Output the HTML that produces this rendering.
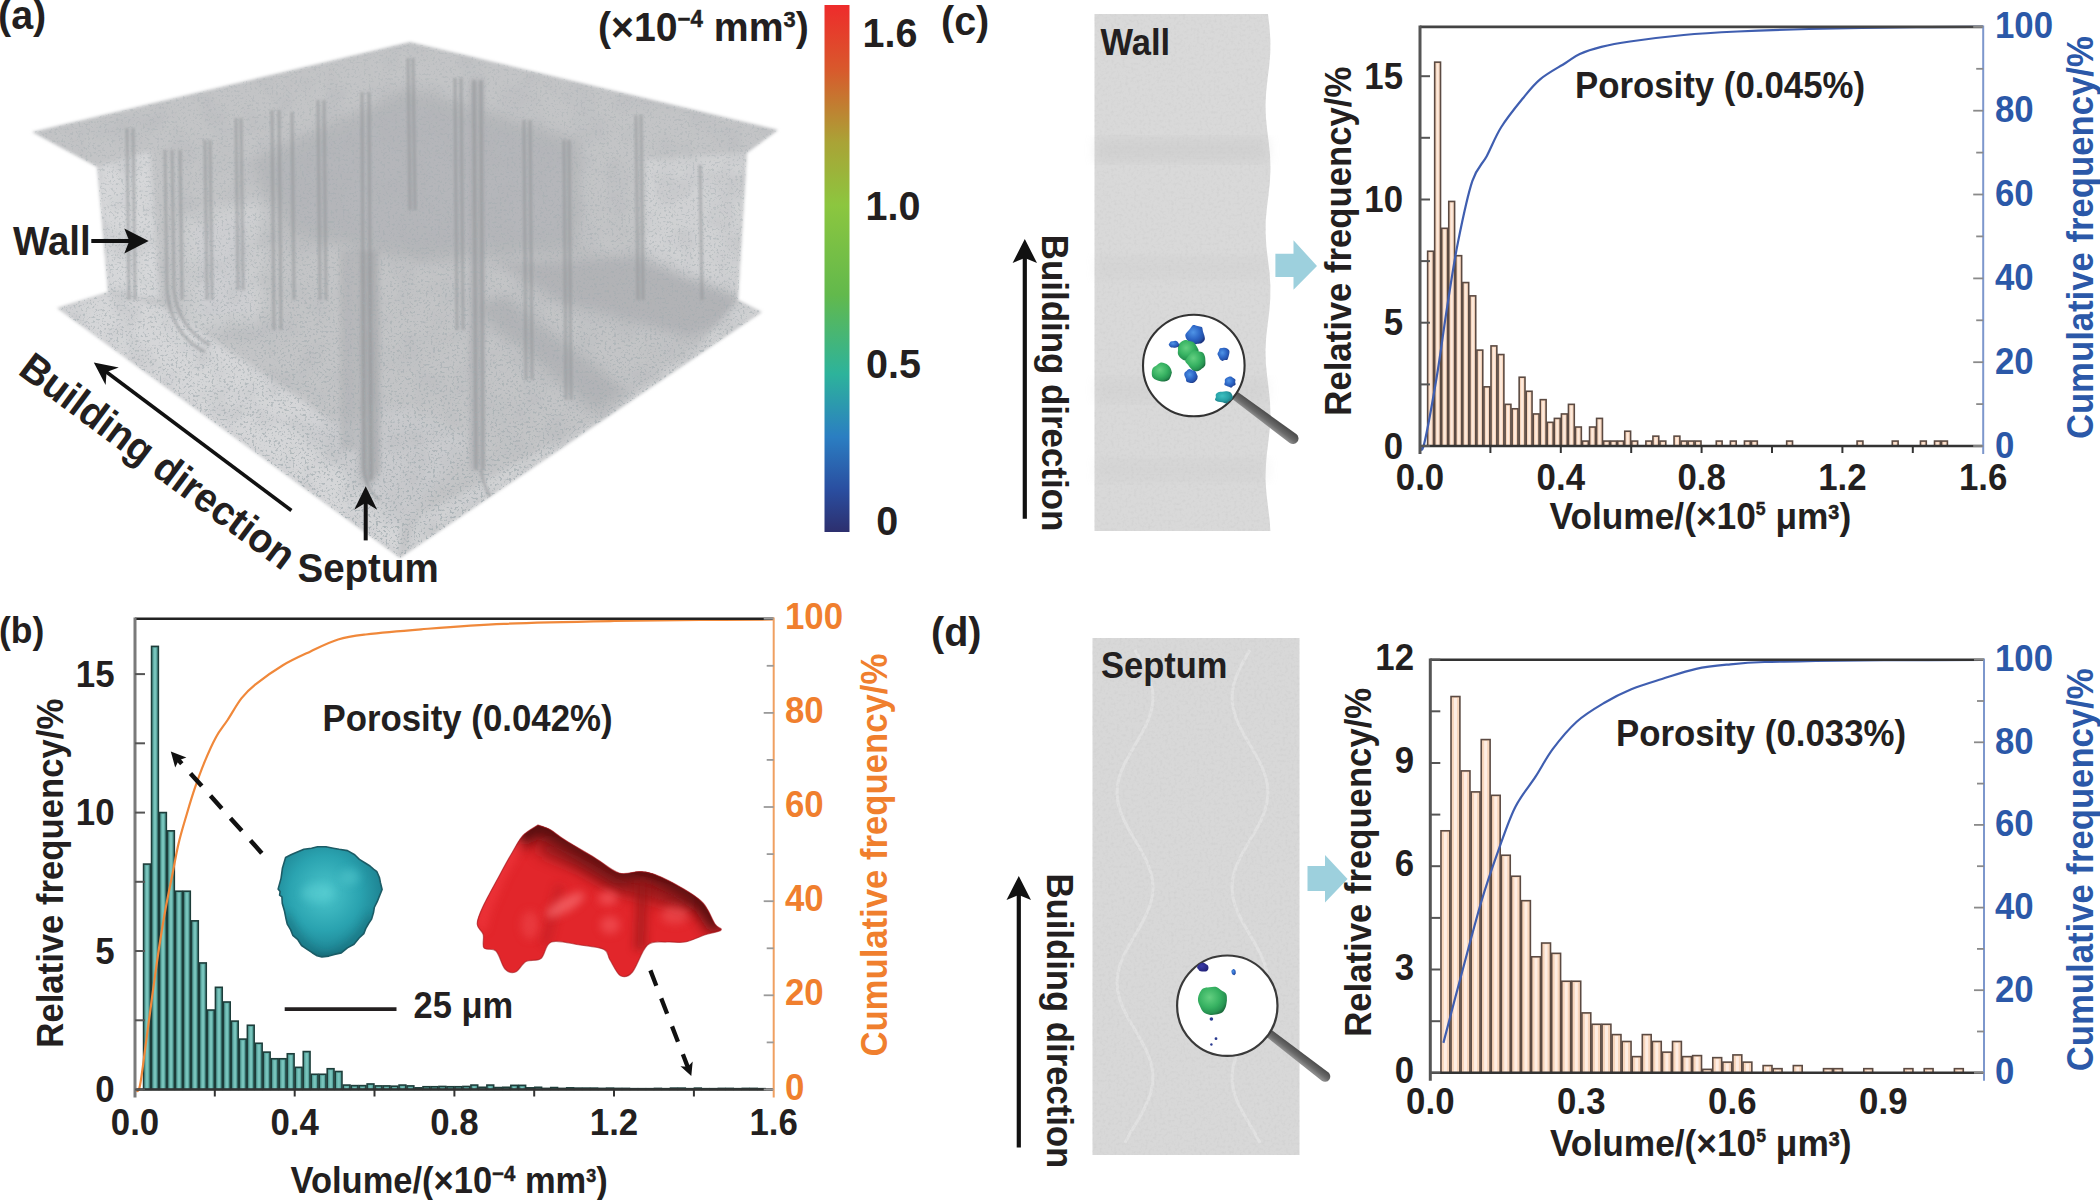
<!DOCTYPE html>
<html><head><meta charset="utf-8"><title>Porosity figure</title>
<style>html,body{margin:0;padding:0;background:#fff;} svg{display:block;}</style></head>
<body><svg width="2100" height="1200" viewBox="0 0 2100 1200" font-family="'Liberation Sans', Arial, sans-serif" font-weight="bold">
<rect width="2100" height="1200" fill="#fff"/>
<defs>
<linearGradient id="cbar" x1="0" y1="0" x2="0" y2="1">
 <stop offset="0" stop-color="#ee2b2b"/>
 <stop offset="0.12" stop-color="#d9582c"/>
 <stop offset="0.26" stop-color="#aaa336"/>
 <stop offset="0.38" stop-color="#8cc63f"/>
 <stop offset="0.55" stop-color="#62b94c"/>
 <stop offset="0.70" stop-color="#2db39b"/>
 <stop offset="0.82" stop-color="#2b7ec2"/>
 <stop offset="0.92" stop-color="#2a4ea0"/>
 <stop offset="1" stop-color="#2d2f6e"/>
</linearGradient>
<filter id="speck" x="0" y="0" width="100%" height="100%">
 <feTurbulence type="fractalNoise" baseFrequency="0.55" numOctaves="2" seed="3" result="n"/>
 <feColorMatrix in="n" type="matrix" values="0 0 0 0 0.35  0 0 0 0 0.40  0 0 0 0 0.42  0 0 0 -2.2 1.25" result="m"/>
 <feComposite in="m" in2="SourceGraphic" operator="in"/>
</filter>
<filter id="soft"><feGaussianBlur stdDeviation="2.5"/></filter>
<filter id="soft1" x="-150%" y="-5%" width="400%" height="110%"><feGaussianBlur stdDeviation="1.1"/></filter>
<filter id="soft6"><feGaussianBlur stdDeviation="6"/></filter>
</defs>
<defs><clipPath id="silclip"><polygon points="32,132 410,42 778,130 747,153 738,300 762,312 400,558 57,308 108,292 97,167"/></clipPath><filter id="edge" x="-5%" y="-5%" width="110%" height="110%"><feGaussianBlur stdDeviation="1.8"/></filter><filter id="dots" x="0" y="0" width="100%" height="100%"><feTurbulence type="fractalNoise" baseFrequency="0.42" numOctaves="2" seed="11" result="n"/><feColorMatrix in="n" type="matrix" values="0 0 0 0 0.36  0 0 0 0 0.41  0 0 0 0 0.43  7 0 0 0 -3.9" result="m"/><feComposite in="m" in2="SourceGraphic" operator="in"/></filter><filter id="blot" x="0" y="0" width="100%" height="100%"><feTurbulence type="fractalNoise" baseFrequency="0.035" numOctaves="3" seed="5" result="n"/><feColorMatrix in="n" type="matrix" values="0 0 0 0 0.45  0 0 0 0 0.46  0 0 0 0 0.48  2.2 0 0 0 -0.95" result="m"/><feComposite in="m" in2="SourceGraphic" operator="in"/></filter></defs>
<g filter="url(#edge)">
<polygon points="32,132 410,42 778,130 747,153 738,300 762,312 400,558 57,308 108,292 97,167" fill="#c3c4c6"/>
<g clip-path="url(#silclip)">
<polygon points="250,160 410,88 580,140 580,250 420,262 290,235" fill="#b4b5b8" opacity="0.9" filter="url(#soft6)"/>
<polygon points="97,167 150,152 160,300 108,292" fill="#d6d7d9" filter="url(#soft)"/>
<polygon points="182,215 262,200 262,325 188,330" fill="#cfd0d2" opacity="0.9" filter="url(#soft6)"/>
<polygon points="645,160 747,153 738,300 645,268" fill="#d0d1d3" filter="url(#soft)"/>
<polygon points="495,262 640,256 745,300 735,318 690,338 560,302" fill="#aeafb2" opacity="0.8" filter="url(#soft6)"/>
<polygon points="468,305 505,295 628,392 595,412" fill="#b1b2b5" opacity="0.9" filter="url(#soft6)"/>
<polygon points="57,308 108,292 160,305 280,385 400,470 400,558" fill="#d5d6d8" filter="url(#soft)"/>
<polygon points="400,558 420,515 600,420 700,345 738,300 762,312" fill="#d0d1d3" filter="url(#soft)"/>
<polygon points="300,430 400,405 470,440 400,530" fill="#c9cacd" filter="url(#soft6)"/>
<path d="M358,250 L360,470 Q366,500 380,470 L378,250 Z" fill="#a7a8ab" opacity="0.8" filter="url(#soft)"/>
<rect x="470" y="80" width="14" height="390" fill="#aeafb2" opacity="0.75" filter="url(#soft)"/>
<rect x="340" y="250" width="18" height="200" fill="#b0b1b4" opacity="0.6" filter="url(#soft)"/>
<polygon points="32,132 410,42 778,130 747,153 738,300 762,312 400,558 57,308 108,292 97,167" fill="#000" filter="url(#blot)" opacity="0.35"/>
</g></g>
<g clip-path="url(#silclip)">
<line x1="127" y1="128" x2="129" y2="300" stroke="#8a8d90" stroke-width="3.2" opacity="0.45" filter="url(#soft1)"/>
<line x1="133" y1="128" x2="135" y2="300" stroke="#8a8d90" stroke-width="3.2" opacity="0.45" filter="url(#soft1)"/>
<line x1="180" y1="150" x2="182" y2="300" stroke="#8a8d90" stroke-width="3.2" opacity="0.45" filter="url(#soft1)"/>
<line x1="205" y1="140" x2="207" y2="300" stroke="#8a8d90" stroke-width="3.2" opacity="0.45" filter="url(#soft1)"/>
<line x1="210" y1="140" x2="212" y2="300" stroke="#8a8d90" stroke-width="3.2" opacity="0.45" filter="url(#soft1)"/>
<line x1="236" y1="118" x2="238" y2="290" stroke="#8a8d90" stroke-width="3.2" opacity="0.45" filter="url(#soft1)"/>
<line x1="241" y1="118" x2="243" y2="290" stroke="#8a8d90" stroke-width="3.2" opacity="0.45" filter="url(#soft1)"/>
<line x1="272" y1="110" x2="274" y2="330" stroke="#8a8d90" stroke-width="3.2" opacity="0.45" filter="url(#soft1)"/>
<line x1="279" y1="110" x2="281" y2="330" stroke="#8a8d90" stroke-width="3.2" opacity="0.45" filter="url(#soft1)"/>
<line x1="292" y1="112" x2="294" y2="300" stroke="#8a8d90" stroke-width="3.2" opacity="0.45" filter="url(#soft1)"/>
<line x1="318" y1="100" x2="320" y2="300" stroke="#8a8d90" stroke-width="3.2" opacity="0.45" filter="url(#soft1)"/>
<line x1="324" y1="100" x2="326" y2="300" stroke="#8a8d90" stroke-width="3.2" opacity="0.45" filter="url(#soft1)"/>
<line x1="362" y1="92" x2="364" y2="470" stroke="#8a8d90" stroke-width="3.2" opacity="0.45" filter="url(#soft1)"/>
<line x1="369" y1="92" x2="371" y2="480" stroke="#8a8d90" stroke-width="3.2" opacity="0.45" filter="url(#soft1)"/>
<line x1="408" y1="58" x2="410" y2="210" stroke="#8a8d90" stroke-width="3.2" opacity="0.45" filter="url(#soft1)"/>
<line x1="413" y1="58" x2="415" y2="210" stroke="#8a8d90" stroke-width="3.2" opacity="0.45" filter="url(#soft1)"/>
<line x1="455" y1="78" x2="457" y2="330" stroke="#8a8d90" stroke-width="3.2" opacity="0.45" filter="url(#soft1)"/>
<line x1="461" y1="78" x2="463" y2="330" stroke="#8a8d90" stroke-width="3.2" opacity="0.45" filter="url(#soft1)"/>
<line x1="474" y1="80" x2="476" y2="470" stroke="#8a8d90" stroke-width="3.2" opacity="0.45" filter="url(#soft1)"/>
<line x1="481" y1="80" x2="483" y2="470" stroke="#8a8d90" stroke-width="3.2" opacity="0.45" filter="url(#soft1)"/>
<line x1="524" y1="120" x2="526" y2="380" stroke="#8a8d90" stroke-width="3.2" opacity="0.45" filter="url(#soft1)"/>
<line x1="530" y1="120" x2="532" y2="380" stroke="#8a8d90" stroke-width="3.2" opacity="0.45" filter="url(#soft1)"/>
<line x1="564" y1="140" x2="566" y2="400" stroke="#8a8d90" stroke-width="3.2" opacity="0.45" filter="url(#soft1)"/>
<line x1="569" y1="140" x2="571" y2="400" stroke="#8a8d90" stroke-width="3.2" opacity="0.45" filter="url(#soft1)"/>
<line x1="636" y1="115" x2="638" y2="300" stroke="#8a8d90" stroke-width="3.2" opacity="0.45" filter="url(#soft1)"/>
<line x1="641" y1="115" x2="643" y2="300" stroke="#8a8d90" stroke-width="3.2" opacity="0.45" filter="url(#soft1)"/>
<line x1="700" y1="165" x2="702" y2="300" stroke="#8a8d90" stroke-width="3.2" opacity="0.45" filter="url(#soft1)"/>
<path d="M165,150 L167,290 Q171,335 205,352" fill="none" stroke="#8a8d90" stroke-width="3" opacity="0.45" filter="url(#soft1)"/>
<path d="M172,150 L174,290 Q178,328 210,345" fill="none" stroke="#8a8d90" stroke-width="3" opacity="0.45" filter="url(#soft1)"/>
<path d="M364,470 Q367,492 380,500" fill="none" stroke="#8a8d90" stroke-width="3" opacity="0.45" filter="url(#soft1)"/>
<path d="M481,470 Q486,500 505,512" fill="none" stroke="#8a8d90" stroke-width="3" opacity="0.45" filter="url(#soft1)"/>
<defs><linearGradient id="dmg" x1="0" y1="0" x2="0" y2="1"><stop offset="0" stop-color="#fff" stop-opacity="0.35"/><stop offset="0.45" stop-color="#fff" stop-opacity="0.6"/><stop offset="1" stop-color="#fff" stop-opacity="1"/></linearGradient><mask id="dmask" maskUnits="userSpaceOnUse" x="0" y="0" width="800" height="600"><rect x="0" y="40" width="800" height="520" fill="url(#dmg)"/></mask></defs>
<g mask="url(#dmask)"><polygon points="32,132 410,42 778,130 747,153 738,300 762,312 400,558 57,308 108,292 97,167" fill="#000" filter="url(#dots)" opacity="0.8"/></g>
</g>
<rect x="824.5" y="5" width="25" height="527" fill="url(#cbar)"/>
<text transform="translate(0.0,28.5) scale(1,1.05)" font-size="39.5" text-anchor="start" fill="#231f20" dx="-2">(a)</text>
<text transform="translate(598.0,40.6) scale(1,1.05)" font-size="39.2" text-anchor="start" fill="#231f20">(×10<tspan font-size="22.3" dy="-12.9" stroke="#231f20" stroke-width="0.45">−4</tspan><tspan dy="12.9"> mm</tspan><tspan font-size="21.8" dy="-12.9" stroke="#231f20" stroke-width="0.45">3</tspan><tspan dy="12.9">)</tspan></text>
<text transform="translate(862.5,47.0) scale(1,1.04)" font-size="39.5" text-anchor="start" fill="#231f20" >1.6</text>
<text transform="translate(865.5,219.5) scale(1,1.04)" font-size="39.5" text-anchor="start" fill="#231f20" >1.0</text>
<text transform="translate(866.0,378.0) scale(1,1.04)" font-size="39.5" text-anchor="start" fill="#231f20" >0.5</text>
<text transform="translate(876.3,534.5) scale(1,1.04)" font-size="39.5" text-anchor="start" fill="#231f20" >0</text>
<text transform="translate(13.0,255.0) scale(1,1.05)" font-size="38.5" text-anchor="start" fill="#231f20" >Wall</text>
<line x1="91.3" y1="241.0" x2="130.3" y2="241.0" stroke="#111" stroke-width="4.0"/>
<polygon points="148.7,241.0 124.3,253.5 129.3,241.0 124.3,228.5" fill="#111"/>
<text transform="translate(16.7,373.3) rotate(36.7) scale(1,1.05)" font-size="39.0" text-anchor="start" fill="#231f20">Building direction</text>
<line x1="291.4" y1="510.5" x2="105.8" y2="371.5" stroke="#111" stroke-width="3.6"/>
<polygon points="93.8,362.5 118.8,367.5 106.6,372.1 105.6,385.1" fill="#111"/>
<text transform="translate(297.5,581.5) scale(1,1.05)" font-size="38.5" text-anchor="start" fill="#231f20" >Septum</text>
<line x1="365.7" y1="540.4" x2="365.7" y2="501.8" stroke="#111" stroke-width="4.0"/>
<polygon points="365.7,486.3 377.2,509.8 365.7,502.8 354.2,509.8" fill="#111"/>
<g>
<rect x="143.58" y="864.07" width="6.78" height="225.43" fill="#5aa59e" stroke="#1d3d3a" stroke-width="1.6"/>
<rect x="145.73" y="865.57" width="2.50" height="222.93" fill="#78c4bc"/>
<rect x="151.57" y="646.39" width="6.78" height="443.11" fill="#5aa59e" stroke="#1d3d3a" stroke-width="1.6"/>
<rect x="153.71" y="647.89" width="2.50" height="440.61" fill="#78c4bc"/>
<rect x="159.55" y="812.56" width="6.78" height="276.94" fill="#5aa59e" stroke="#1d3d3a" stroke-width="1.6"/>
<rect x="161.69" y="814.06" width="2.50" height="274.44" fill="#78c4bc"/>
<rect x="167.53" y="830.84" width="6.78" height="258.66" fill="#5aa59e" stroke="#1d3d3a" stroke-width="1.6"/>
<rect x="169.68" y="832.34" width="2.50" height="256.16" fill="#78c4bc"/>
<rect x="175.52" y="891.21" width="6.78" height="198.29" fill="#5aa59e" stroke="#1d3d3a" stroke-width="1.6"/>
<rect x="177.66" y="892.71" width="2.50" height="195.79" fill="#78c4bc"/>
<rect x="183.50" y="891.21" width="6.78" height="198.29" fill="#5aa59e" stroke="#1d3d3a" stroke-width="1.6"/>
<rect x="185.64" y="892.71" width="2.50" height="195.79" fill="#78c4bc"/>
<rect x="191.49" y="920.84" width="6.78" height="168.66" fill="#5aa59e" stroke="#1d3d3a" stroke-width="1.6"/>
<rect x="193.63" y="922.34" width="2.50" height="166.16" fill="#78c4bc"/>
<rect x="199.47" y="962.94" width="6.78" height="126.56" fill="#5aa59e" stroke="#1d3d3a" stroke-width="1.6"/>
<rect x="201.61" y="964.44" width="2.50" height="124.06" fill="#78c4bc"/>
<rect x="207.45" y="1010.02" width="6.78" height="79.48" fill="#5aa59e" stroke="#1d3d3a" stroke-width="1.6"/>
<rect x="209.60" y="1011.52" width="2.50" height="76.98" fill="#78c4bc"/>
<rect x="215.44" y="987.31" width="6.78" height="102.19" fill="#5aa59e" stroke="#1d3d3a" stroke-width="1.6"/>
<rect x="217.58" y="988.81" width="2.50" height="99.69" fill="#78c4bc"/>
<rect x="223.42" y="1001.99" width="6.78" height="87.51" fill="#5aa59e" stroke="#1d3d3a" stroke-width="1.6"/>
<rect x="225.56" y="1003.49" width="2.50" height="85.01" fill="#78c4bc"/>
<rect x="231.41" y="1021.10" width="6.78" height="68.40" fill="#5aa59e" stroke="#1d3d3a" stroke-width="1.6"/>
<rect x="233.55" y="1022.60" width="2.50" height="65.90" fill="#78c4bc"/>
<rect x="239.39" y="1039.10" width="6.78" height="50.40" fill="#5aa59e" stroke="#1d3d3a" stroke-width="1.6"/>
<rect x="241.53" y="1040.60" width="2.50" height="47.90" fill="#78c4bc"/>
<rect x="247.37" y="1025.25" width="6.78" height="64.25" fill="#5aa59e" stroke="#1d3d3a" stroke-width="1.6"/>
<rect x="249.51" y="1026.75" width="2.50" height="61.75" fill="#78c4bc"/>
<rect x="255.36" y="1043.25" width="6.78" height="46.25" fill="#5aa59e" stroke="#1d3d3a" stroke-width="1.6"/>
<rect x="257.50" y="1044.75" width="2.50" height="43.75" fill="#78c4bc"/>
<rect x="263.34" y="1052.11" width="6.78" height="37.39" fill="#5aa59e" stroke="#1d3d3a" stroke-width="1.6"/>
<rect x="265.48" y="1053.61" width="2.50" height="34.89" fill="#78c4bc"/>
<rect x="271.32" y="1058.76" width="6.78" height="30.74" fill="#5aa59e" stroke="#1d3d3a" stroke-width="1.6"/>
<rect x="273.47" y="1060.26" width="2.50" height="28.24" fill="#78c4bc"/>
<rect x="279.31" y="1058.76" width="6.78" height="30.74" fill="#5aa59e" stroke="#1d3d3a" stroke-width="1.6"/>
<rect x="281.45" y="1060.26" width="2.50" height="28.24" fill="#78c4bc"/>
<rect x="287.29" y="1053.77" width="6.78" height="35.73" fill="#5aa59e" stroke="#1d3d3a" stroke-width="1.6"/>
<rect x="289.43" y="1055.27" width="2.50" height="33.23" fill="#78c4bc"/>
<rect x="295.28" y="1067.34" width="6.78" height="22.16" fill="#5aa59e" stroke="#1d3d3a" stroke-width="1.6"/>
<rect x="297.42" y="1068.84" width="2.50" height="19.66" fill="#78c4bc"/>
<rect x="303.26" y="1051.56" width="6.78" height="37.94" fill="#5aa59e" stroke="#1d3d3a" stroke-width="1.6"/>
<rect x="305.40" y="1053.06" width="2.50" height="35.44" fill="#78c4bc"/>
<rect x="311.24" y="1074.27" width="6.78" height="15.23" fill="#5aa59e" stroke="#1d3d3a" stroke-width="1.6"/>
<rect x="313.38" y="1075.77" width="2.50" height="12.73" fill="#78c4bc"/>
<rect x="319.23" y="1074.27" width="6.78" height="15.23" fill="#5aa59e" stroke="#1d3d3a" stroke-width="1.6"/>
<rect x="321.37" y="1075.77" width="2.50" height="12.73" fill="#78c4bc"/>
<rect x="327.21" y="1068.73" width="6.78" height="20.77" fill="#5aa59e" stroke="#1d3d3a" stroke-width="1.6"/>
<rect x="329.35" y="1070.23" width="2.50" height="18.27" fill="#78c4bc"/>
<rect x="335.19" y="1071.50" width="6.78" height="18.00" fill="#5aa59e" stroke="#1d3d3a" stroke-width="1.6"/>
<rect x="337.34" y="1073.00" width="2.50" height="15.50" fill="#78c4bc"/>
<rect x="343.18" y="1085.07" width="6.78" height="4.43" fill="#5aa59e" stroke="#1d3d3a" stroke-width="1.6"/>
<rect x="345.32" y="1086.57" width="2.50" height="1.93" fill="#78c4bc"/>
<rect x="351.16" y="1085.62" width="6.78" height="3.88" fill="#5aa59e" stroke="#1d3d3a" stroke-width="1.6"/>
<rect x="353.30" y="1087.12" width="2.50" height="1.38" fill="#78c4bc"/>
<rect x="359.15" y="1085.62" width="6.78" height="3.88" fill="#5aa59e" stroke="#1d3d3a" stroke-width="1.6"/>
<rect x="361.29" y="1087.12" width="2.50" height="1.38" fill="#78c4bc"/>
<rect x="367.13" y="1083.96" width="6.78" height="5.54" fill="#5aa59e" stroke="#1d3d3a" stroke-width="1.6"/>
<rect x="369.27" y="1085.46" width="2.50" height="3.04" fill="#78c4bc"/>
<rect x="375.11" y="1085.90" width="6.78" height="3.60" fill="#5aa59e" stroke="#1d3d3a" stroke-width="1.6"/>
<rect x="377.25" y="1087.40" width="2.50" height="1.10" fill="#78c4bc"/>
<rect x="383.10" y="1085.90" width="6.78" height="3.60" fill="#5aa59e" stroke="#1d3d3a" stroke-width="1.6"/>
<rect x="385.24" y="1087.40" width="2.50" height="1.10" fill="#78c4bc"/>
<rect x="391.08" y="1086.18" width="6.78" height="3.32" fill="#5aa59e" stroke="#1d3d3a" stroke-width="1.6"/>
<rect x="393.22" y="1087.68" width="2.50" height="0.82" fill="#78c4bc"/>
<rect x="399.06" y="1085.07" width="6.78" height="4.43" fill="#5aa59e" stroke="#1d3d3a" stroke-width="1.6"/>
<rect x="401.21" y="1086.57" width="2.50" height="1.93" fill="#78c4bc"/>
<rect x="407.05" y="1085.90" width="6.78" height="3.60" fill="#5aa59e" stroke="#1d3d3a" stroke-width="1.6"/>
<rect x="409.19" y="1087.40" width="2.50" height="1.10" fill="#78c4bc"/>
<rect x="415.03" y="1087.84" width="6.78" height="1.66" fill="#5aa59e" stroke="#1d3d3a" stroke-width="1.6"/>
<rect x="423.01" y="1086.73" width="6.78" height="2.77" fill="#5aa59e" stroke="#1d3d3a" stroke-width="1.6"/>
<rect x="431.00" y="1086.73" width="6.78" height="2.77" fill="#5aa59e" stroke="#1d3d3a" stroke-width="1.6"/>
<rect x="438.98" y="1086.45" width="6.78" height="3.05" fill="#5aa59e" stroke="#1d3d3a" stroke-width="1.6"/>
<rect x="441.12" y="1087.95" width="2.50" height="0.55" fill="#78c4bc"/>
<rect x="446.97" y="1086.73" width="6.78" height="2.77" fill="#5aa59e" stroke="#1d3d3a" stroke-width="1.6"/>
<rect x="454.95" y="1086.73" width="6.78" height="2.77" fill="#5aa59e" stroke="#1d3d3a" stroke-width="1.6"/>
<rect x="462.93" y="1086.45" width="6.78" height="3.05" fill="#5aa59e" stroke="#1d3d3a" stroke-width="1.6"/>
<rect x="465.08" y="1087.95" width="2.50" height="0.55" fill="#78c4bc"/>
<rect x="470.92" y="1085.07" width="6.78" height="4.43" fill="#5aa59e" stroke="#1d3d3a" stroke-width="1.6"/>
<rect x="473.06" y="1086.57" width="2.50" height="1.93" fill="#78c4bc"/>
<rect x="478.90" y="1087.28" width="6.78" height="2.22" fill="#5aa59e" stroke="#1d3d3a" stroke-width="1.6"/>
<rect x="486.89" y="1085.07" width="6.78" height="4.43" fill="#5aa59e" stroke="#1d3d3a" stroke-width="1.6"/>
<rect x="489.03" y="1086.57" width="2.50" height="1.93" fill="#78c4bc"/>
<rect x="494.87" y="1087.56" width="6.78" height="1.94" fill="#5aa59e" stroke="#1d3d3a" stroke-width="1.6"/>
<rect x="502.85" y="1087.28" width="6.78" height="2.22" fill="#5aa59e" stroke="#1d3d3a" stroke-width="1.6"/>
<rect x="510.84" y="1085.35" width="6.78" height="4.15" fill="#5aa59e" stroke="#1d3d3a" stroke-width="1.6"/>
<rect x="512.98" y="1086.85" width="2.50" height="1.65" fill="#78c4bc"/>
<rect x="518.82" y="1085.35" width="6.78" height="4.15" fill="#5aa59e" stroke="#1d3d3a" stroke-width="1.6"/>
<rect x="520.96" y="1086.85" width="2.50" height="1.65" fill="#78c4bc"/>
<rect x="526.80" y="1087.84" width="6.78" height="1.66" fill="#5aa59e" stroke="#1d3d3a" stroke-width="1.6"/>
<rect x="534.79" y="1087.28" width="6.78" height="2.22" fill="#5aa59e" stroke="#1d3d3a" stroke-width="1.6"/>
<rect x="542.77" y="1088.39" width="6.78" height="1.11" fill="#5aa59e" stroke="#1d3d3a" stroke-width="1.6"/>
<rect x="550.75" y="1087.56" width="6.78" height="1.94" fill="#5aa59e" stroke="#1d3d3a" stroke-width="1.6"/>
<rect x="558.74" y="1088.39" width="6.78" height="1.11" fill="#5aa59e" stroke="#1d3d3a" stroke-width="1.6"/>
<rect x="566.72" y="1087.84" width="6.78" height="1.66" fill="#5aa59e" stroke="#1d3d3a" stroke-width="1.6"/>
<rect x="574.71" y="1088.12" width="6.78" height="1.38" fill="#5aa59e" stroke="#1d3d3a" stroke-width="1.6"/>
<rect x="582.69" y="1088.12" width="6.78" height="1.38" fill="#5aa59e" stroke="#1d3d3a" stroke-width="1.6"/>
<rect x="590.67" y="1088.12" width="6.78" height="1.38" fill="#5aa59e" stroke="#1d3d3a" stroke-width="1.6"/>
<rect x="598.66" y="1088.39" width="6.78" height="1.11" fill="#5aa59e" stroke="#1d3d3a" stroke-width="1.6"/>
<rect x="606.64" y="1088.12" width="6.78" height="1.38" fill="#5aa59e" stroke="#1d3d3a" stroke-width="1.6"/>
<rect x="614.62" y="1088.39" width="6.78" height="1.11" fill="#5aa59e" stroke="#1d3d3a" stroke-width="1.6"/>
<rect x="622.61" y="1088.39" width="6.78" height="1.11" fill="#5aa59e" stroke="#1d3d3a" stroke-width="1.6"/>
<rect x="630.59" y="1088.67" width="6.78" height="0.83" fill="#5aa59e" stroke="#1d3d3a" stroke-width="1.6"/>
<rect x="638.58" y="1088.67" width="6.78" height="0.83" fill="#5aa59e" stroke="#1d3d3a" stroke-width="1.6"/>
<rect x="646.56" y="1088.67" width="6.78" height="0.83" fill="#5aa59e" stroke="#1d3d3a" stroke-width="1.6"/>
<rect x="654.54" y="1088.39" width="6.78" height="1.11" fill="#5aa59e" stroke="#1d3d3a" stroke-width="1.6"/>
<rect x="662.53" y="1088.67" width="6.78" height="0.83" fill="#5aa59e" stroke="#1d3d3a" stroke-width="1.6"/>
<rect x="670.51" y="1088.12" width="6.78" height="1.38" fill="#5aa59e" stroke="#1d3d3a" stroke-width="1.6"/>
<rect x="678.50" y="1088.12" width="6.78" height="1.38" fill="#5aa59e" stroke="#1d3d3a" stroke-width="1.6"/>
<rect x="686.48" y="1088.67" width="6.78" height="0.83" fill="#5aa59e" stroke="#1d3d3a" stroke-width="1.6"/>
<rect x="694.46" y="1088.12" width="6.78" height="1.38" fill="#5aa59e" stroke="#1d3d3a" stroke-width="1.6"/>
<rect x="702.45" y="1088.67" width="6.78" height="0.83" fill="#5aa59e" stroke="#1d3d3a" stroke-width="1.6"/>
<rect x="710.43" y="1088.67" width="6.78" height="0.83" fill="#5aa59e" stroke="#1d3d3a" stroke-width="1.6"/>
<rect x="718.41" y="1088.39" width="6.78" height="1.11" fill="#5aa59e" stroke="#1d3d3a" stroke-width="1.6"/>
<rect x="726.40" y="1088.39" width="6.78" height="1.11" fill="#5aa59e" stroke="#1d3d3a" stroke-width="1.6"/>
<rect x="734.38" y="1088.67" width="6.78" height="0.83" fill="#5aa59e" stroke="#1d3d3a" stroke-width="1.6"/>
<rect x="742.37" y="1088.39" width="6.78" height="1.11" fill="#5aa59e" stroke="#1d3d3a" stroke-width="1.6"/>
<rect x="750.35" y="1088.39" width="6.78" height="1.11" fill="#5aa59e" stroke="#1d3d3a" stroke-width="1.6"/>
<rect x="758.33" y="1088.67" width="6.78" height="0.83" fill="#5aa59e" stroke="#1d3d3a" stroke-width="1.6"/>
</g>
<path d="M135.0,1089.5 C135.8,1089.0 137.8,1094.8 139.7,1086.7 C141.6,1078.6 144.0,1056.7 146.2,1041.0 C148.4,1025.3 150.5,1008.2 152.7,992.5 C154.9,976.8 157.0,961.1 159.2,947.0 C161.4,932.9 163.5,919.9 165.7,908.0 C167.9,896.1 170.0,886.3 172.2,875.5 C174.4,864.7 176.2,853.3 178.7,843.0 C181.1,832.7 184.2,822.9 186.9,813.7 C189.6,804.5 192.0,796.4 195.0,787.7 C198.0,779.0 201.2,770.2 204.7,761.7 C208.2,753.2 212.3,744.0 216.1,737.0 C219.9,730.0 223.4,726.4 227.6,720.0 C231.8,713.6 236.8,704.3 241.4,698.4 C246.0,692.5 248.3,690.1 255.2,684.6 C262.1,679.1 273.7,670.7 282.9,665.2 C292.1,659.7 301.3,655.7 310.5,651.4 C319.7,647.1 328.9,642.3 338.1,639.5 C347.3,636.7 351.9,636.2 365.7,634.5 C379.5,632.8 398.0,631.1 421.0,629.3 C444.0,627.5 471.6,625.2 503.8,623.8 C536.0,622.4 581.6,621.6 614.3,621.0 C647.0,620.4 673.5,620.2 700.0,620.0 C726.5,619.8 760.8,619.6 773.0,619.5" fill="none" stroke="#f0883a" stroke-width="2.2" stroke-linejoin="round"/>
<line x1="135.0" y1="618.7" x2="773.7" y2="618.7" stroke="#222" stroke-width="2.6"/>
<line x1="135.0" y1="1089.5" x2="773.7" y2="1089.5" stroke="#333" stroke-width="2.4"/>
<line x1="135.0" y1="617.4" x2="135.0" y2="1097.5" stroke="#7a7a7a" stroke-width="3"/>
<line x1="773.7" y1="617.4" x2="773.7" y2="1097.5" stroke="#f0a060" stroke-width="2"/>
<line x1="135.0" y1="1089.5" x2="145.0" y2="1089.5" stroke="#555" stroke-width="2"/>
<line x1="135.0" y1="1020.3" x2="145.0" y2="1020.3" stroke="#555" stroke-width="2"/>
<line x1="135.0" y1="951.0" x2="145.0" y2="951.0" stroke="#555" stroke-width="2"/>
<line x1="135.0" y1="881.8" x2="145.0" y2="881.8" stroke="#555" stroke-width="2"/>
<line x1="135.0" y1="812.6" x2="145.0" y2="812.6" stroke="#555" stroke-width="2"/>
<line x1="135.0" y1="743.3" x2="145.0" y2="743.3" stroke="#555" stroke-width="2"/>
<line x1="135.0" y1="674.1" x2="145.0" y2="674.1" stroke="#555" stroke-width="2"/>
<line x1="763.7" y1="1089.5" x2="773.7" y2="1089.5" stroke="#9a9a9a" stroke-width="1.8"/>
<line x1="766.7" y1="1042.4" x2="773.7" y2="1042.4" stroke="#9a9a9a" stroke-width="1.8"/>
<line x1="763.7" y1="995.3" x2="773.7" y2="995.3" stroke="#9a9a9a" stroke-width="1.8"/>
<line x1="766.7" y1="948.3" x2="773.7" y2="948.3" stroke="#9a9a9a" stroke-width="1.8"/>
<line x1="763.7" y1="901.2" x2="773.7" y2="901.2" stroke="#9a9a9a" stroke-width="1.8"/>
<line x1="766.7" y1="854.1" x2="773.7" y2="854.1" stroke="#9a9a9a" stroke-width="1.8"/>
<line x1="763.7" y1="807.0" x2="773.7" y2="807.0" stroke="#9a9a9a" stroke-width="1.8"/>
<line x1="766.7" y1="759.9" x2="773.7" y2="759.9" stroke="#9a9a9a" stroke-width="1.8"/>
<line x1="763.7" y1="712.9" x2="773.7" y2="712.9" stroke="#9a9a9a" stroke-width="1.8"/>
<line x1="766.7" y1="665.8" x2="773.7" y2="665.8" stroke="#9a9a9a" stroke-width="1.8"/>
<line x1="763.7" y1="618.7" x2="773.7" y2="618.7" stroke="#9a9a9a" stroke-width="1.8"/>
<line x1="214.8" y1="1089.5" x2="214.8" y2="1096.5" stroke="#333" stroke-width="2"/>
<line x1="294.7" y1="1089.5" x2="294.7" y2="1096.5" stroke="#333" stroke-width="2"/>
<line x1="374.5" y1="1089.5" x2="374.5" y2="1096.5" stroke="#333" stroke-width="2"/>
<line x1="454.4" y1="1089.5" x2="454.4" y2="1096.5" stroke="#333" stroke-width="2"/>
<line x1="534.2" y1="1089.5" x2="534.2" y2="1096.5" stroke="#333" stroke-width="2"/>
<line x1="614.0" y1="1089.5" x2="614.0" y2="1096.5" stroke="#333" stroke-width="2"/>
<line x1="693.9" y1="1089.5" x2="693.9" y2="1096.5" stroke="#333" stroke-width="2"/>
<text transform="translate(135.0,1134.5) scale(1,1.04)" font-size="34.8" text-anchor="middle" fill="#231f20" >0.0</text>
<text transform="translate(294.7,1134.5) scale(1,1.04)" font-size="34.8" text-anchor="middle" fill="#231f20" >0.4</text>
<text transform="translate(454.4,1134.5) scale(1,1.04)" font-size="34.8" text-anchor="middle" fill="#231f20" >0.8</text>
<text transform="translate(614.0,1134.5) scale(1,1.04)" font-size="34.8" text-anchor="middle" fill="#231f20" >1.2</text>
<text transform="translate(773.7,1134.5) scale(1,1.04)" font-size="34.8" text-anchor="middle" fill="#231f20" >1.6</text>
<text transform="translate(114.5,1102.0) scale(1,1.04)" font-size="34.8" text-anchor="end" fill="#231f20" >0</text>
<text transform="translate(114.5,963.5) scale(1,1.04)" font-size="34.8" text-anchor="end" fill="#231f20" >5</text>
<text transform="translate(114.5,825.0) scale(1,1.04)" font-size="34.8" text-anchor="end" fill="#231f20" >10</text>
<text transform="translate(114.5,686.5) scale(1,1.04)" font-size="34.8" text-anchor="end" fill="#231f20" >15</text>
<text transform="translate(785.0,1099.5) scale(1,1.04)" font-size="34.8" text-anchor="start" fill="#f07f2e" >0</text>
<text transform="translate(785.0,1005.3) scale(1,1.04)" font-size="34.8" text-anchor="start" fill="#f07f2e" >20</text>
<text transform="translate(785.0,911.1) scale(1,1.04)" font-size="34.8" text-anchor="start" fill="#f07f2e" >40</text>
<text transform="translate(785.0,817.0) scale(1,1.04)" font-size="34.8" text-anchor="start" fill="#f07f2e" >60</text>
<text transform="translate(785.0,722.8) scale(1,1.04)" font-size="34.8" text-anchor="start" fill="#f07f2e" >80</text>
<text transform="translate(785.0,628.7) scale(1,1.04)" font-size="34.8" text-anchor="start" fill="#f07f2e" >100</text>
<text transform="translate(-1.0,643.0) scale(1,1.05)" font-size="35.5" text-anchor="start" fill="#231f20" >(b)</text>
<text transform="translate(63.3,873.2) rotate(-90) scale(1,1.05)" font-size="34.7" text-anchor="middle" fill="#231f20">Relative frequency/%</text>
<text transform="translate(886.5,855.2) rotate(-90) scale(1,1.05)" font-size="34.7" text-anchor="middle" fill="#f07f2e">Cumulative frequency/%</text>
<text transform="translate(322.5,731.0) scale(1,1.05)" font-size="34.8" text-anchor="start" fill="#231f20" >Porosity (0.042%)</text>
<text transform="translate(290.5,1192.6) scale(1,1.05)" font-size="34.5" text-anchor="start" fill="#231f20">Volume/(×10<tspan font-size="20.4" dy="-11.4" stroke="#231f20" stroke-width="0.45">−4</tspan><tspan dy="11.4"> mm</tspan><tspan font-size="17.9" dy="-9.7" stroke="#231f20" stroke-width="0.45">3</tspan><tspan dy="9.7">)</tspan></text>
<line x1="284.7" y1="1009.2" x2="396.5" y2="1009.2" stroke="#231f20" stroke-width="3.8"/>
<text transform="translate(413.5,1017.7) scale(1,1.05)" font-size="34.5" text-anchor="start" fill="#231f20" >25 μm</text>
<line x1="261.8" y1="853.2" x2="178.1" y2="759.6" stroke="#111" stroke-width="4.5" stroke-dasharray="17,13"/>
<polygon points="170.8,751.4 186.4,757.6 178.8,760.3 175.2,767.6" fill="#111"/>
<line x1="650.4" y1="970.4" x2="688.0" y2="1067.6" stroke="#111" stroke-width="4.3" stroke-dasharray="16.4,13.6"/>
<polygon points="691.3,1076.0 680.5,1066.2 687.7,1066.7 692.7,1061.5" fill="#111"/>
<defs>
<radialGradient id="cyg" cx="0.45" cy="0.42" r="0.62">
 <stop offset="0" stop-color="#4cc6cc"/><stop offset="0.55" stop-color="#2aa3b0"/><stop offset="0.85" stop-color="#1f8796"/><stop offset="1" stop-color="#175e68"/>
</radialGradient>
<radialGradient id="rdg" cx="0.45" cy="0.65" r="0.65">
 <stop offset="0" stop-color="#f04448"/><stop offset="0.5" stop-color="#e3262b"/><stop offset="0.85" stop-color="#b81c22"/><stop offset="1" stop-color="#7a1216"/>
</radialGradient>
<linearGradient id="rdtop" x1="0" y1="0" x2="0.3" y2="1">
 <stop offset="0" stop-color="#5a0e10" stop-opacity="0.85"/><stop offset="0.45" stop-color="#8a1a1c" stop-opacity="0.3"/><stop offset="0.7" stop-color="#e02a2e" stop-opacity="0"/>
</linearGradient>
</defs>
<path d="M278.1,889.1 L281.1,878.1 L282.4,868.3 L285.6,857.5 L291.4,854.5 L296.7,852.2 L303.9,849.2 L311.5,848.2 L317.5,846.7 L325.9,846.7 L333.3,848.2 L339.2,849.3 L347.5,850.6 L354.7,854.8 L359.4,859.4 L365.6,863.3 L370.0,866.0 L373.5,869.2 L376.9,871.7 L379.4,877.5 L380.5,882.9 L382.1,889.5 L379.6,895.6 L377.2,901.7 L374.3,907.5 L373.5,912.5 L371.6,919.1 L368.6,923.5 L365.7,928.6 L363.8,933.6 L359.1,938.0 L354.0,944.3 L347.4,947.9 L341.3,952.9 L334.4,954.4 L328.8,956.1 L321.9,956.9 L317.1,955.7 L312.2,952.7 L307.2,949.3 L301.6,945.5 L297.9,939.7 L292.8,935.3 L290.7,929.9 L287.3,924.2 L285.8,917.7 L284.4,910.7 L282.3,903.6 L281.9,896.9 L279.6,895.1 L280.1,891.6 Z" fill="url(#cyg)" stroke="#1c5c66" stroke-width="1.6" stroke-linejoin="round"/>
<defs><clipPath id="cyclip"><path d="M278.1,889.1 L281.1,878.1 L282.4,868.3 L285.6,857.5 L291.4,854.5 L296.7,852.2 L303.9,849.2 L311.5,848.2 L317.5,846.7 L325.9,846.7 L333.3,848.2 L339.2,849.3 L347.5,850.6 L354.7,854.8 L359.4,859.4 L365.6,863.3 L370.0,866.0 L373.5,869.2 L376.9,871.7 L379.4,877.5 L380.5,882.9 L382.1,889.5 L379.6,895.6 L377.2,901.7 L374.3,907.5 L373.5,912.5 L371.6,919.1 L368.6,923.5 L365.7,928.6 L363.8,933.6 L359.1,938.0 L354.0,944.3 L347.4,947.9 L341.3,952.9 L334.4,954.4 L328.8,956.1 L321.9,956.9 L317.1,955.7 L312.2,952.7 L307.2,949.3 L301.6,945.5 L297.9,939.7 L292.8,935.3 L290.7,929.9 L287.3,924.2 L285.8,917.7 L284.4,910.7 L282.3,903.6 L281.9,896.9 L279.6,895.1 L280.1,891.6 Z"/></clipPath></defs>
<g clip-path="url(#cyclip)">
<ellipse cx="318" cy="893" rx="16" ry="9" fill="#5ccfd3" opacity="0.55" filter="url(#bl4)"/>
<ellipse cx="350" cy="877" rx="10" ry="8" fill="#5ccfd3" opacity="0.45" filter="url(#bl4)"/>
<path d="M285,915 Q300,950 325,957 Q355,950 372,915" fill="none" stroke="#17606c" stroke-width="8" opacity="0.45" filter="url(#bl4)"/>
</g>
<defs><clipPath id="rdclip"><path d="M538.0,825.0 C535.5,826.8 527.2,831.0 523.0,835.5 C518.8,840.0 516.8,844.8 512.5,852.0 C508.2,859.2 502.5,869.8 497.5,879.0 C492.5,888.2 485.9,900.0 482.5,907.5 C479.1,915.0 477.1,919.5 477.2,924.0 C477.3,928.5 482.1,930.5 483.2,934.5 C484.3,938.5 481.9,945.2 484.0,948.0 C486.1,950.8 492.5,947.5 496.0,951.0 C499.5,954.5 501.8,965.5 505.0,969.0 C508.2,972.5 512.0,973.2 515.5,972.0 C519.0,970.8 521.8,963.8 526.0,961.5 C530.2,959.2 536.8,961.8 541.0,958.5 C545.2,955.2 545.0,944.2 551.5,942.0 C558.0,939.8 571.2,943.8 580.0,945.0 C588.8,946.2 599.0,947.0 604.0,949.5 C609.0,952.0 607.2,955.6 610.0,960.0 C612.8,964.4 616.8,973.7 620.5,975.7 C624.2,977.7 628.0,977.1 632.5,972.0 C637.0,966.9 641.8,950.0 647.5,945.0 C653.2,940.0 660.8,942.5 667.0,942.0 C673.2,941.5 678.5,943.2 685.0,942.0 C691.5,940.8 700.0,936.5 706.0,934.5 C712.0,932.5 719.5,931.8 721.0,930.0 C722.5,928.2 718.0,928.5 715.0,924.0 C712.0,919.5 708.5,909.0 703.0,903.0 C697.5,897.0 690.0,892.8 682.0,888.0 C674.0,883.2 662.0,877.2 655.0,874.5 C648.0,871.8 646.0,871.8 640.0,871.5 C634.0,871.2 626.5,875.2 619.0,873.0 C611.5,870.8 604.0,863.5 595.0,858.0 C586.0,852.5 572.5,844.8 565.0,840.0 C557.5,835.2 554.5,832.0 550.0,829.5 C545.5,827.0 540.0,825.8 538.0,825.0 Z"/></clipPath><filter id="bl4" filterUnits="userSpaceOnUse" x="250" y="780" width="530" height="240"><feGaussianBlur stdDeviation="4"/></filter><filter id="bl8" filterUnits="userSpaceOnUse" x="250" y="780" width="530" height="240"><feGaussianBlur stdDeviation="7"/></filter></defs>
<path d="M538.0,825.0 C535.5,826.8 527.2,831.0 523.0,835.5 C518.8,840.0 516.8,844.8 512.5,852.0 C508.2,859.2 502.5,869.8 497.5,879.0 C492.5,888.2 485.9,900.0 482.5,907.5 C479.1,915.0 477.1,919.5 477.2,924.0 C477.3,928.5 482.1,930.5 483.2,934.5 C484.3,938.5 481.9,945.2 484.0,948.0 C486.1,950.8 492.5,947.5 496.0,951.0 C499.5,954.5 501.8,965.5 505.0,969.0 C508.2,972.5 512.0,973.2 515.5,972.0 C519.0,970.8 521.8,963.8 526.0,961.5 C530.2,959.2 536.8,961.8 541.0,958.5 C545.2,955.2 545.0,944.2 551.5,942.0 C558.0,939.8 571.2,943.8 580.0,945.0 C588.8,946.2 599.0,947.0 604.0,949.5 C609.0,952.0 607.2,955.6 610.0,960.0 C612.8,964.4 616.8,973.7 620.5,975.7 C624.2,977.7 628.0,977.1 632.5,972.0 C637.0,966.9 641.8,950.0 647.5,945.0 C653.2,940.0 660.8,942.5 667.0,942.0 C673.2,941.5 678.5,943.2 685.0,942.0 C691.5,940.8 700.0,936.5 706.0,934.5 C712.0,932.5 719.5,931.8 721.0,930.0 C722.5,928.2 718.0,928.5 715.0,924.0 C712.0,919.5 708.5,909.0 703.0,903.0 C697.5,897.0 690.0,892.8 682.0,888.0 C674.0,883.2 662.0,877.2 655.0,874.5 C648.0,871.8 646.0,871.8 640.0,871.5 C634.0,871.2 626.5,875.2 619.0,873.0 C611.5,870.8 604.0,863.5 595.0,858.0 C586.0,852.5 572.5,844.8 565.0,840.0 C557.5,835.2 554.5,832.0 550.0,829.5 C545.5,827.0 540.0,825.8 538.0,825.0 Z" fill="#e2262b"/>
<g clip-path="url(#rdclip)">
<polyline points="515,838 538,822 565,838 595,856 619,871 640,869 655,872 682,886 705,902 722,928" fill="none" stroke="#4a0a0c" stroke-width="26" opacity="0.9" filter="url(#bl8)"/>
<polyline points="540,845 580,862 620,885 650,892 690,905" fill="none" stroke="#7a1215" stroke-width="18" opacity="0.6" filter="url(#bl8)"/>
<line x1="643" y1="880" x2="640" y2="950" stroke="#8e1519" stroke-width="12" opacity="0.55" filter="url(#bl4)"/>
<line x1="560" y1="885" x2="545" y2="945" stroke="#b31b20" stroke-width="10" opacity="0.4" filter="url(#bl4)"/>
<polyline points="520,840 500,875 485,910 480,930" fill="none" stroke="#f23a3f" stroke-width="12" opacity="0.6" filter="url(#bl4)"/>
<ellipse cx="565" cy="905" rx="22" ry="7" fill="#f66a6d" opacity="0.75" filter="url(#bl4)" transform="rotate(-30 565 905)"/>
<ellipse cx="608" cy="898" rx="10" ry="7" fill="#f55a5e" opacity="0.7" filter="url(#bl4)"/>
<ellipse cx="610" cy="925" rx="10" ry="9" fill="#f55a5e" opacity="0.6" filter="url(#bl4)"/>
<ellipse cx="675" cy="915" rx="14" ry="9" fill="#f25558" opacity="0.6" filter="url(#bl4)"/>
<ellipse cx="530" cy="925" rx="9" ry="14" fill="#f04d51" opacity="0.5" filter="url(#bl4)"/>
</g>
<path d="M538.0,825.0 C535.5,826.8 527.2,831.0 523.0,835.5 C518.8,840.0 516.8,844.8 512.5,852.0 C508.2,859.2 502.5,869.8 497.5,879.0 C492.5,888.2 485.9,900.0 482.5,907.5 C479.1,915.0 477.1,919.5 477.2,924.0 C477.3,928.5 482.1,930.5 483.2,934.5 C484.3,938.5 481.9,945.2 484.0,948.0 C486.1,950.8 492.5,947.5 496.0,951.0 C499.5,954.5 501.8,965.5 505.0,969.0 C508.2,972.5 512.0,973.2 515.5,972.0 C519.0,970.8 521.8,963.8 526.0,961.5 C530.2,959.2 536.8,961.8 541.0,958.5 C545.2,955.2 545.0,944.2 551.5,942.0 C558.0,939.8 571.2,943.8 580.0,945.0 C588.8,946.2 599.0,947.0 604.0,949.5 C609.0,952.0 607.2,955.6 610.0,960.0 C612.8,964.4 616.8,973.7 620.5,975.7 C624.2,977.7 628.0,977.1 632.5,972.0 C637.0,966.9 641.8,950.0 647.5,945.0 C653.2,940.0 660.8,942.5 667.0,942.0 C673.2,941.5 678.5,943.2 685.0,942.0 C691.5,940.8 700.0,936.5 706.0,934.5 C712.0,932.5 719.5,931.8 721.0,930.0 C722.5,928.2 718.0,928.5 715.0,924.0 C712.0,919.5 708.5,909.0 703.0,903.0 C697.5,897.0 690.0,892.8 682.0,888.0 C674.0,883.2 662.0,877.2 655.0,874.5 C648.0,871.8 646.0,871.8 640.0,871.5 C634.0,871.2 626.5,875.2 619.0,873.0 C611.5,870.8 604.0,863.5 595.0,858.0 C586.0,852.5 572.5,844.8 565.0,840.0 C557.5,835.2 554.5,832.0 550.0,829.5 C545.5,827.0 540.0,825.8 538.0,825.0 Z" fill="none" stroke="#a0161a" stroke-width="1.2" opacity="0.6"/>
<defs>
<filter id="speck2" x="0" y="0" width="100%" height="100%">
 <feTurbulence type="fractalNoise" baseFrequency="0.35" numOctaves="2" seed="7" result="n"/>
 <feColorMatrix in="n" type="matrix" values="0 0 0 0 0.55  0 0 0 0 0.55  0 0 0 0 0.55  0 0 0 -2.5 1.35" result="m"/>
 <feComposite in="m" in2="SourceGraphic" operator="in"/>
</filter>
<linearGradient id="hand" x1="0" y1="0" x2="1" y2="1"><stop offset="0" stop-color="#8a8a8a"/><stop offset="1" stop-color="#555"/></linearGradient>
</defs>
<defs>
<radialGradient id="gG" cx="0.4" cy="0.38" r="0.65"><stop offset="0" stop-color="#63cf80"/><stop offset="0.55" stop-color="#37b262"/><stop offset="0.85" stop-color="#279452"/><stop offset="1" stop-color="#1d6e3e"/></radialGradient>
<radialGradient id="gB" cx="0.4" cy="0.38" r="0.65"><stop offset="0" stop-color="#4f94e6"/><stop offset="0.55" stop-color="#2d66c6"/><stop offset="0.85" stop-color="#2450a8"/><stop offset="1" stop-color="#1d3682"/></radialGradient>
<radialGradient id="gT" cx="0.4" cy="0.38" r="0.65"><stop offset="0" stop-color="#3cc0c0"/><stop offset="0.6" stop-color="#26a0a6"/><stop offset="1" stop-color="#1a7078"/></radialGradient>
<radialGradient id="gD" cx="0.4" cy="0.38" r="0.65"><stop offset="0" stop-color="#3c3ca8"/><stop offset="1" stop-color="#22227a"/></radialGradient>
</defs>
<path d="M1094.5,14 L1268.0,14.0 L1269.5,26.9 L1270.4,39.9 L1270.3,52.8 L1269.2,65.7 L1267.6,78.6 L1266.2,91.5 L1265.5,104.5 L1265.9,117.4 L1267.2,130.3 L1268.8,143.2 L1270.1,156.2 L1270.5,169.1 L1269.9,182.0 L1268.5,194.9 L1266.9,207.9 L1265.7,220.8 L1265.6,233.7 L1266.4,246.7 L1267.9,259.6 L1269.5,272.5 L1270.4,285.4 L1270.3,298.4 L1269.3,311.3 L1267.7,324.2 L1266.2,337.1 L1265.5,350.1 L1265.8,363.0 L1267.1,375.9 L1268.7,388.8 L1270.0,401.8 L1270.5,414.7 L1269.9,427.6 L1268.5,440.5 L1266.9,453.4 L1265.8,466.4 L1265.5,479.3 L1266.3,492.2 L1267.8,505.1 L1269.4,518.1 L1270.4,531.0 L1094.5,531 Z" fill="#d9d9d9"/>
<rect x="1096" y="138" width="172" height="24" fill="#bbbbbb" opacity="0.25" filter="url(#soft6)"/>
<rect x="1096" y="256" width="172" height="24" fill="#bbbbbb" opacity="0.12" filter="url(#soft6)"/>
<rect x="1096" y="378" width="172" height="24" fill="#bbbbbb" opacity="0.15" filter="url(#soft6)"/>
<rect x="1096" y="458" width="172" height="24" fill="#bbbbbb" opacity="0.12" filter="url(#soft6)"/>
<path d="M1094.5,14 L1268.0,14.0 L1269.5,26.9 L1270.4,39.9 L1270.3,52.8 L1269.2,65.7 L1267.6,78.6 L1266.2,91.5 L1265.5,104.5 L1265.9,117.4 L1267.2,130.3 L1268.8,143.2 L1270.1,156.2 L1270.5,169.1 L1269.9,182.0 L1268.5,194.9 L1266.9,207.9 L1265.7,220.8 L1265.6,233.7 L1266.4,246.7 L1267.9,259.6 L1269.5,272.5 L1270.4,285.4 L1270.3,298.4 L1269.3,311.3 L1267.7,324.2 L1266.2,337.1 L1265.5,350.1 L1265.8,363.0 L1267.1,375.9 L1268.7,388.8 L1270.0,401.8 L1270.5,414.7 L1269.9,427.6 L1268.5,440.5 L1266.9,453.4 L1265.8,466.4 L1265.5,479.3 L1266.3,492.2 L1267.8,505.1 L1269.4,518.1 L1270.4,531.0 L1094.5,531 Z" fill="#000" filter="url(#speck2)" opacity="0.3"/>
<text transform="translate(1100.5,55.0) scale(1,1.05)" font-size="34.5" text-anchor="start" fill="#231f20" >Wall</text>
<line x1="1024.8" y1="518.7" x2="1024.8" y2="257.0" stroke="#111" stroke-width="4.2"/>
<polygon points="1024.8,239.0 1037.0,263.0 1024.8,258.0 1012.6,263.0" fill="#111"/>
<text transform="translate(1042.0,234.8) rotate(90) scale(1,1.05)" font-size="34.9" text-anchor="start" fill="#231f20">Building direction</text>
<polygon points="1275.4,253.7 1293.5,253.7 1293.5,240.3 1317,266 1293.5,289.7 1293.5,277 1275.4,277" fill="#9dd0dd"/>
<defs><linearGradient id="hc" gradientUnits="userSpaceOnUse" x1="1230.3" y1="397.6" x2="1235.7" y2="390.4"><stop offset="0" stop-color="#8a8a8a"/><stop offset="0.4" stop-color="#6a6a6a"/><stop offset="1" stop-color="#505050"/></linearGradient></defs>
<path d="M1230.3,397.6 L1289.7,442.9 A5.5,5.5 0 0 0 1296.3,434.1 L1235.7,390.4 Z" fill="url(#hc)"/>
<circle cx="1193.8" cy="365.5" r="50.8" fill="#fff" stroke="#333" stroke-width="2.1"/>
<path d="M1204.2,335.0 C1204.3,335.7 1205.2,338.1 1204.8,339.5 C1204.4,340.8 1203.0,342.2 1201.8,342.9 C1200.6,343.6 1198.9,343.5 1197.5,343.7 C1196.1,343.9 1194.7,344.5 1193.4,344.3 C1192.1,344.0 1190.8,343.2 1189.6,342.3 C1188.5,341.5 1187.3,340.5 1186.6,339.3 C1185.9,338.0 1185.2,336.3 1185.3,335.0 C1185.5,333.7 1187.0,332.4 1187.8,331.3 C1188.6,330.2 1189.3,329.5 1190.2,328.4 C1191.2,327.4 1192.0,325.4 1193.2,325.0 C1194.4,324.6 1196.1,325.5 1197.6,325.9 C1199.0,326.2 1200.9,326.2 1201.8,327.1 C1202.7,328.0 1202.6,330.1 1203.0,331.4 C1203.4,332.7 1204.0,334.4 1204.2,335.0 Z" fill="url(#gB)"/>
<path d="M1198.6,350.0 C1198.4,350.8 1198.4,353.6 1197.5,354.8 C1196.6,356.0 1194.4,356.3 1193.1,357.0 C1191.7,357.6 1190.8,358.2 1189.5,358.8 C1188.2,359.4 1186.5,360.6 1185.1,360.5 C1183.7,360.4 1182.1,359.3 1180.9,358.3 C1179.7,357.3 1178.6,355.9 1178.1,354.5 C1177.6,353.1 1177.9,351.5 1178.0,350.0 C1178.0,348.5 1177.7,346.9 1178.3,345.6 C1178.8,344.2 1179.9,342.9 1181.1,342.0 C1182.3,341.1 1183.8,340.2 1185.2,340.1 C1186.6,339.9 1188.1,340.7 1189.5,341.1 C1190.9,341.4 1192.5,341.5 1193.6,342.3 C1194.8,343.1 1195.5,344.5 1196.3,345.8 C1197.1,347.1 1198.2,349.3 1198.6,350.0 Z" fill="url(#gG)"/>
<path d="M1205.4,361.0 C1205.3,361.7 1205.7,364.1 1205.1,365.4 C1204.6,366.6 1203.2,367.6 1202.0,368.6 C1200.9,369.5 1199.7,370.6 1198.3,371.0 C1196.9,371.4 1195.0,371.5 1193.7,371.0 C1192.4,370.5 1191.4,369.0 1190.4,368.0 C1189.5,367.0 1188.9,366.0 1188.0,364.8 C1187.2,363.7 1185.3,362.3 1185.2,361.0 C1185.1,359.7 1186.7,358.1 1187.5,356.9 C1188.3,355.7 1189.2,354.8 1190.2,353.7 C1191.2,352.5 1192.2,350.5 1193.5,350.1 C1194.9,349.7 1196.7,350.9 1198.2,351.3 C1199.7,351.7 1201.6,351.7 1202.7,352.6 C1203.9,353.4 1204.5,355.3 1205.0,356.7 C1205.4,358.1 1205.3,360.3 1205.4,361.0 Z" fill="url(#gG)"/>
<path d="M1171.9,372.5 C1171.7,373.2 1171.2,375.2 1170.7,376.4 C1170.1,377.7 1169.6,379.3 1168.6,380.1 C1167.6,381.0 1165.9,381.3 1164.5,381.4 C1163.2,381.6 1161.9,381.5 1160.5,381.2 C1159.2,381.0 1157.7,380.8 1156.4,380.1 C1155.1,379.5 1153.4,378.5 1152.6,377.3 C1151.8,376.0 1151.7,374.1 1151.8,372.5 C1151.8,370.9 1152.1,369.1 1152.9,367.9 C1153.7,366.7 1155.5,366.1 1156.7,365.2 C1157.9,364.3 1158.9,363.0 1160.3,362.7 C1161.6,362.3 1163.3,362.8 1164.6,363.3 C1165.9,363.7 1167.2,364.4 1168.2,365.3 C1169.3,366.2 1170.1,367.4 1170.7,368.6 C1171.3,369.8 1171.7,371.8 1171.9,372.5 Z" fill="url(#gG)"/>
<path d="M1197.7,376.0 C1197.6,376.5 1197.6,378.1 1197.2,379.0 C1196.8,379.9 1196.1,380.8 1195.3,381.4 C1194.6,382.1 1193.6,382.8 1192.6,383.0 C1191.6,383.2 1190.5,382.9 1189.5,382.7 C1188.5,382.5 1187.1,382.3 1186.5,381.6 C1185.9,380.9 1186.1,379.4 1185.8,378.5 C1185.5,377.6 1184.8,376.9 1184.6,376.0 C1184.3,375.1 1184.1,373.8 1184.5,372.9 C1184.9,372.0 1186.0,371.4 1186.8,370.7 C1187.6,370.1 1188.5,369.1 1189.4,369.1 C1190.3,369.0 1191.4,369.9 1192.3,370.3 C1193.2,370.6 1194.3,370.4 1195.0,371.0 C1195.7,371.5 1196.1,372.5 1196.5,373.4 C1196.9,374.2 1197.5,375.6 1197.7,376.0 Z" fill="url(#gB)"/>
<path d="M1179.4,344.5 C1179.3,344.8 1179.2,345.7 1178.9,346.1 C1178.5,346.6 1177.7,347.0 1177.1,347.2 C1176.5,347.5 1175.7,347.7 1175.0,347.7 C1174.4,347.8 1173.7,347.6 1173.0,347.5 C1172.3,347.4 1171.3,347.6 1170.8,347.3 C1170.2,347.1 1169.9,346.5 1169.5,346.0 C1169.2,345.5 1168.7,345.0 1168.7,344.5 C1168.7,344.0 1169.3,343.5 1169.6,343.0 C1170.0,342.5 1170.1,341.9 1170.7,341.6 C1171.2,341.3 1172.2,341.4 1172.9,341.3 C1173.7,341.1 1174.5,340.8 1175.2,340.8 C1175.9,340.9 1176.8,341.3 1177.3,341.6 C1177.8,342.0 1178.1,342.5 1178.4,343.0 C1178.8,343.5 1179.2,344.3 1179.4,344.5 Z" fill="url(#gB)"/>
<path d="M1229.2,354.0 C1229.1,354.5 1228.8,355.8 1228.5,356.8 C1228.1,357.7 1228.0,359.1 1227.4,359.7 C1226.8,360.2 1225.6,359.9 1224.7,360.1 C1223.8,360.3 1223.0,361.0 1222.2,360.9 C1221.4,360.7 1220.5,360.0 1219.9,359.3 C1219.3,358.6 1219.1,357.6 1218.7,356.7 C1218.3,355.8 1217.5,354.9 1217.5,354.0 C1217.5,353.1 1218.3,352.2 1218.7,351.3 C1219.1,350.4 1219.2,349.2 1219.8,348.6 C1220.4,348.0 1221.5,348.0 1222.3,347.9 C1223.1,347.8 1223.9,347.7 1224.7,347.8 C1225.5,348.0 1226.4,348.1 1227.2,348.6 C1227.9,349.1 1229.0,349.8 1229.3,350.7 C1229.7,351.6 1229.3,353.5 1229.2,354.0 Z" fill="url(#gB)"/>
<path d="M1235.1,382.0 C1235.2,382.4 1235.8,384.0 1235.5,384.7 C1235.2,385.3 1233.8,385.4 1233.1,385.9 C1232.4,386.4 1232.0,387.5 1231.3,387.6 C1230.6,387.8 1229.6,387.1 1228.9,386.8 C1228.1,386.6 1227.5,386.4 1226.8,386.0 C1226.0,385.7 1224.8,385.3 1224.5,384.7 C1224.1,384.0 1224.8,382.9 1224.9,382.0 C1225.0,381.1 1224.6,380.2 1224.9,379.5 C1225.2,378.8 1226.0,378.2 1226.6,377.7 C1227.3,377.3 1228.0,376.9 1228.8,376.7 C1229.6,376.5 1230.5,376.4 1231.2,376.6 C1232.0,376.9 1232.5,377.6 1233.2,378.0 C1233.9,378.5 1235.0,378.8 1235.3,379.4 C1235.7,380.1 1235.2,381.6 1235.1,382.0 Z" fill="url(#gB)"/>
<path d="M1232.9,397.0 C1232.7,397.4 1232.5,398.8 1231.9,399.5 C1231.2,400.2 1230.1,400.6 1229.1,401.3 C1228.2,401.9 1227.3,403.2 1226.2,403.4 C1225.0,403.5 1223.5,402.4 1222.2,402.2 C1220.9,401.9 1219.6,402.1 1218.4,401.7 C1217.2,401.3 1215.5,400.6 1215.1,399.9 C1214.7,399.1 1215.8,397.9 1215.9,397.0 C1216.0,396.1 1215.4,395.2 1215.8,394.4 C1216.2,393.6 1217.2,392.6 1218.2,392.2 C1219.3,391.7 1220.9,391.9 1222.2,391.8 C1223.5,391.7 1224.7,391.3 1225.9,391.3 C1227.2,391.4 1228.9,391.6 1229.9,392.1 C1230.9,392.6 1231.5,393.6 1232.0,394.4 C1232.5,395.2 1232.8,396.6 1232.9,397.0 Z" fill="url(#gT)"/>
<g>
<rect x="1427.64" y="251.24" width="5.84" height="194.76" fill="#f6d4bb" stroke="#5b4a42" stroke-width="1.6"/>
<rect x="1429.56" y="252.74" width="2.00" height="192.26" fill="#fdeadc"/>
<rect x="1434.68" y="62.15" width="5.84" height="383.85" fill="#f6d4bb" stroke="#5b4a42" stroke-width="1.6"/>
<rect x="1436.60" y="63.65" width="2.00" height="381.35" fill="#fdeadc"/>
<rect x="1441.72" y="228.31" width="5.84" height="217.69" fill="#f6d4bb" stroke="#5b4a42" stroke-width="1.6"/>
<rect x="1443.64" y="229.81" width="2.00" height="215.19" fill="#fdeadc"/>
<rect x="1448.76" y="201.44" width="5.84" height="244.56" fill="#f6d4bb" stroke="#5b4a42" stroke-width="1.6"/>
<rect x="1450.68" y="202.94" width="2.00" height="242.06" fill="#fdeadc"/>
<rect x="1455.80" y="255.68" width="5.84" height="190.32" fill="#f6d4bb" stroke="#5b4a42" stroke-width="1.6"/>
<rect x="1457.72" y="257.18" width="2.00" height="187.82" fill="#fdeadc"/>
<rect x="1462.84" y="282.55" width="5.84" height="163.45" fill="#f6d4bb" stroke="#5b4a42" stroke-width="1.6"/>
<rect x="1464.76" y="284.05" width="2.00" height="160.95" fill="#fdeadc"/>
<rect x="1469.88" y="295.86" width="5.84" height="150.14" fill="#f6d4bb" stroke="#5b4a42" stroke-width="1.6"/>
<rect x="1471.80" y="297.36" width="2.00" height="147.64" fill="#fdeadc"/>
<rect x="1476.92" y="350.10" width="5.84" height="95.90" fill="#f6d4bb" stroke="#5b4a42" stroke-width="1.6"/>
<rect x="1478.84" y="351.60" width="2.00" height="93.40" fill="#fdeadc"/>
<rect x="1483.96" y="386.83" width="5.84" height="59.17" fill="#f6d4bb" stroke="#5b4a42" stroke-width="1.6"/>
<rect x="1485.88" y="388.33" width="2.00" height="56.67" fill="#fdeadc"/>
<rect x="1491.00" y="345.91" width="5.84" height="100.09" fill="#f6d4bb" stroke="#5b4a42" stroke-width="1.6"/>
<rect x="1492.92" y="347.41" width="2.00" height="97.59" fill="#fdeadc"/>
<rect x="1498.04" y="354.54" width="5.84" height="91.46" fill="#f6d4bb" stroke="#5b4a42" stroke-width="1.6"/>
<rect x="1499.96" y="356.04" width="2.00" height="88.96" fill="#fdeadc"/>
<rect x="1505.08" y="404.34" width="5.84" height="41.66" fill="#f6d4bb" stroke="#5b4a42" stroke-width="1.6"/>
<rect x="1507.00" y="405.84" width="2.00" height="39.16" fill="#fdeadc"/>
<rect x="1512.12" y="408.77" width="5.84" height="37.23" fill="#f6d4bb" stroke="#5b4a42" stroke-width="1.6"/>
<rect x="1514.04" y="410.27" width="2.00" height="34.73" fill="#fdeadc"/>
<rect x="1519.16" y="377.22" width="5.84" height="68.78" fill="#f6d4bb" stroke="#5b4a42" stroke-width="1.6"/>
<rect x="1521.08" y="378.72" width="2.00" height="66.28" fill="#fdeadc"/>
<rect x="1526.20" y="391.27" width="5.84" height="54.73" fill="#f6d4bb" stroke="#5b4a42" stroke-width="1.6"/>
<rect x="1528.12" y="392.77" width="2.00" height="52.23" fill="#fdeadc"/>
<rect x="1533.24" y="413.95" width="5.84" height="32.05" fill="#f6d4bb" stroke="#5b4a42" stroke-width="1.6"/>
<rect x="1535.16" y="415.45" width="2.00" height="29.55" fill="#fdeadc"/>
<rect x="1540.28" y="399.65" width="5.84" height="46.35" fill="#f6d4bb" stroke="#5b4a42" stroke-width="1.6"/>
<rect x="1542.20" y="401.15" width="2.00" height="43.85" fill="#fdeadc"/>
<rect x="1547.32" y="422.33" width="5.84" height="23.67" fill="#f6d4bb" stroke="#5b4a42" stroke-width="1.6"/>
<rect x="1549.24" y="423.83" width="2.00" height="21.17" fill="#fdeadc"/>
<rect x="1554.36" y="418.39" width="5.84" height="27.61" fill="#f6d4bb" stroke="#5b4a42" stroke-width="1.6"/>
<rect x="1556.28" y="419.89" width="2.00" height="25.11" fill="#fdeadc"/>
<rect x="1561.40" y="413.95" width="5.84" height="32.05" fill="#f6d4bb" stroke="#5b4a42" stroke-width="1.6"/>
<rect x="1563.32" y="415.45" width="2.00" height="29.55" fill="#fdeadc"/>
<rect x="1568.44" y="404.34" width="5.84" height="41.66" fill="#f6d4bb" stroke="#5b4a42" stroke-width="1.6"/>
<rect x="1570.36" y="405.84" width="2.00" height="39.16" fill="#fdeadc"/>
<rect x="1575.48" y="427.02" width="5.84" height="18.98" fill="#f6d4bb" stroke="#5b4a42" stroke-width="1.6"/>
<rect x="1577.40" y="428.52" width="2.00" height="16.48" fill="#fdeadc"/>
<rect x="1582.52" y="441.07" width="5.84" height="4.93" fill="#f6d4bb" stroke="#5b4a42" stroke-width="1.6"/>
<rect x="1584.44" y="442.57" width="2.00" height="2.43" fill="#fdeadc"/>
<rect x="1589.56" y="427.02" width="5.84" height="18.98" fill="#f6d4bb" stroke="#5b4a42" stroke-width="1.6"/>
<rect x="1591.48" y="428.52" width="2.00" height="16.48" fill="#fdeadc"/>
<rect x="1596.60" y="418.39" width="5.84" height="27.61" fill="#f6d4bb" stroke="#5b4a42" stroke-width="1.6"/>
<rect x="1598.52" y="419.89" width="2.00" height="25.11" fill="#fdeadc"/>
<rect x="1603.64" y="441.07" width="5.84" height="4.93" fill="#f6d4bb" stroke="#5b4a42" stroke-width="1.6"/>
<rect x="1605.56" y="442.57" width="2.00" height="2.43" fill="#fdeadc"/>
<rect x="1610.68" y="441.07" width="5.84" height="4.93" fill="#f6d4bb" stroke="#5b4a42" stroke-width="1.6"/>
<rect x="1612.60" y="442.57" width="2.00" height="2.43" fill="#fdeadc"/>
<rect x="1617.72" y="441.07" width="5.84" height="4.93" fill="#f6d4bb" stroke="#5b4a42" stroke-width="1.6"/>
<rect x="1619.64" y="442.57" width="2.00" height="2.43" fill="#fdeadc"/>
<rect x="1624.76" y="431.21" width="5.84" height="14.79" fill="#f6d4bb" stroke="#5b4a42" stroke-width="1.6"/>
<rect x="1626.68" y="432.71" width="2.00" height="12.29" fill="#fdeadc"/>
<rect x="1631.80" y="441.07" width="5.84" height="4.93" fill="#f6d4bb" stroke="#5b4a42" stroke-width="1.6"/>
<rect x="1633.72" y="442.57" width="2.00" height="2.43" fill="#fdeadc"/>
<rect x="1645.88" y="441.07" width="5.84" height="4.93" fill="#f6d4bb" stroke="#5b4a42" stroke-width="1.6"/>
<rect x="1647.80" y="442.57" width="2.00" height="2.43" fill="#fdeadc"/>
<rect x="1652.92" y="436.14" width="5.84" height="9.86" fill="#f6d4bb" stroke="#5b4a42" stroke-width="1.6"/>
<rect x="1654.84" y="437.64" width="2.00" height="7.36" fill="#fdeadc"/>
<rect x="1659.96" y="441.07" width="5.84" height="4.93" fill="#f6d4bb" stroke="#5b4a42" stroke-width="1.6"/>
<rect x="1661.88" y="442.57" width="2.00" height="2.43" fill="#fdeadc"/>
<rect x="1674.04" y="436.14" width="5.84" height="9.86" fill="#f6d4bb" stroke="#5b4a42" stroke-width="1.6"/>
<rect x="1675.96" y="437.64" width="2.00" height="7.36" fill="#fdeadc"/>
<rect x="1681.08" y="441.07" width="5.84" height="4.93" fill="#f6d4bb" stroke="#5b4a42" stroke-width="1.6"/>
<rect x="1683.00" y="442.57" width="2.00" height="2.43" fill="#fdeadc"/>
<rect x="1688.12" y="441.07" width="5.84" height="4.93" fill="#f6d4bb" stroke="#5b4a42" stroke-width="1.6"/>
<rect x="1690.04" y="442.57" width="2.00" height="2.43" fill="#fdeadc"/>
<rect x="1695.16" y="441.07" width="5.84" height="4.93" fill="#f6d4bb" stroke="#5b4a42" stroke-width="1.6"/>
<rect x="1697.08" y="442.57" width="2.00" height="2.43" fill="#fdeadc"/>
<rect x="1716.28" y="441.07" width="5.84" height="4.93" fill="#f6d4bb" stroke="#5b4a42" stroke-width="1.6"/>
<rect x="1718.20" y="442.57" width="2.00" height="2.43" fill="#fdeadc"/>
<rect x="1730.36" y="441.07" width="5.84" height="4.93" fill="#f6d4bb" stroke="#5b4a42" stroke-width="1.6"/>
<rect x="1732.28" y="442.57" width="2.00" height="2.43" fill="#fdeadc"/>
<rect x="1744.44" y="441.07" width="5.84" height="4.93" fill="#f6d4bb" stroke="#5b4a42" stroke-width="1.6"/>
<rect x="1746.36" y="442.57" width="2.00" height="2.43" fill="#fdeadc"/>
<rect x="1751.48" y="441.07" width="5.84" height="4.93" fill="#f6d4bb" stroke="#5b4a42" stroke-width="1.6"/>
<rect x="1753.40" y="442.57" width="2.00" height="2.43" fill="#fdeadc"/>
<rect x="1786.68" y="441.07" width="5.84" height="4.93" fill="#f6d4bb" stroke="#5b4a42" stroke-width="1.6"/>
<rect x="1788.60" y="442.57" width="2.00" height="2.43" fill="#fdeadc"/>
<rect x="1857.08" y="441.07" width="5.84" height="4.93" fill="#f6d4bb" stroke="#5b4a42" stroke-width="1.6"/>
<rect x="1859.00" y="442.57" width="2.00" height="2.43" fill="#fdeadc"/>
<rect x="1892.28" y="441.07" width="5.84" height="4.93" fill="#f6d4bb" stroke="#5b4a42" stroke-width="1.6"/>
<rect x="1894.20" y="442.57" width="2.00" height="2.43" fill="#fdeadc"/>
<rect x="1920.44" y="441.07" width="5.84" height="4.93" fill="#f6d4bb" stroke="#5b4a42" stroke-width="1.6"/>
<rect x="1922.36" y="442.57" width="2.00" height="2.43" fill="#fdeadc"/>
<rect x="1934.52" y="441.07" width="5.84" height="4.93" fill="#f6d4bb" stroke="#5b4a42" stroke-width="1.6"/>
<rect x="1936.44" y="442.57" width="2.00" height="2.43" fill="#fdeadc"/>
<rect x="1941.56" y="441.07" width="5.84" height="4.93" fill="#f6d4bb" stroke="#5b4a42" stroke-width="1.6"/>
<rect x="1943.48" y="442.57" width="2.00" height="2.43" fill="#fdeadc"/>
</g>
<path d="M1420.0,446.0 C1420.7,445.8 1421.2,455.9 1424.0,444.6 C1426.8,433.3 1432.6,401.3 1436.5,378.3 C1440.4,355.3 1443.6,329.3 1447.2,306.6 C1450.8,283.9 1453.8,263.0 1458.0,242.1 C1462.2,221.2 1467.5,195.5 1472.3,181.2 C1477.1,166.9 1481.9,165.1 1486.7,156.2 C1491.5,147.2 1495.0,137.1 1501.0,127.5 C1507.0,117.9 1515.9,106.9 1522.5,98.8 C1529.1,90.7 1533.2,85.1 1540.4,79.1 C1547.6,73.1 1558.9,67.2 1565.5,63.0 C1572.1,58.8 1573.8,56.7 1579.8,54.0 C1585.8,51.3 1592.9,49.0 1601.3,46.9 C1609.7,44.8 1616.3,43.5 1630.0,41.5 C1643.7,39.5 1665.8,36.7 1683.7,35.0 C1701.6,33.3 1716.6,32.5 1737.5,31.5 C1758.4,30.5 1779.2,29.7 1809.0,29.0 C1838.8,28.3 1887.6,27.6 1916.6,27.2 C1945.6,26.8 1971.9,26.9 1983.0,26.9" fill="none" stroke="#3f5eb0" stroke-width="2.2" stroke-linejoin="round"/>
<line x1="1420.0" y1="26.9" x2="1983.2" y2="26.9" stroke="#444" stroke-width="2.6"/>
<line x1="1420.0" y1="446.0" x2="1983.2" y2="446.0" stroke="#333" stroke-width="2.4"/>
<line x1="1420.0" y1="25.6" x2="1420.0" y2="454.0" stroke="#555" stroke-width="3"/>
<line x1="1983.2" y1="25.6" x2="1983.2" y2="454.0" stroke="#7d97cc" stroke-width="2"/>
<line x1="1420.0" y1="446.0" x2="1430.0" y2="446.0" stroke="#555" stroke-width="2"/>
<line x1="1420.0" y1="384.4" x2="1430.0" y2="384.4" stroke="#555" stroke-width="2"/>
<line x1="1420.0" y1="322.7" x2="1430.0" y2="322.7" stroke="#555" stroke-width="2"/>
<line x1="1420.0" y1="261.1" x2="1430.0" y2="261.1" stroke="#555" stroke-width="2"/>
<line x1="1420.0" y1="199.5" x2="1430.0" y2="199.5" stroke="#555" stroke-width="2"/>
<line x1="1420.0" y1="137.8" x2="1430.0" y2="137.8" stroke="#555" stroke-width="2"/>
<line x1="1420.0" y1="76.2" x2="1430.0" y2="76.2" stroke="#555" stroke-width="2"/>
<line x1="1973.2" y1="446.0" x2="1983.2" y2="446.0" stroke="#8a8a8a" stroke-width="1.8"/>
<line x1="1976.2" y1="404.1" x2="1983.2" y2="404.1" stroke="#8a8a8a" stroke-width="1.8"/>
<line x1="1973.2" y1="362.2" x2="1983.2" y2="362.2" stroke="#8a8a8a" stroke-width="1.8"/>
<line x1="1976.2" y1="320.3" x2="1983.2" y2="320.3" stroke="#8a8a8a" stroke-width="1.8"/>
<line x1="1973.2" y1="278.4" x2="1983.2" y2="278.4" stroke="#8a8a8a" stroke-width="1.8"/>
<line x1="1976.2" y1="236.4" x2="1983.2" y2="236.4" stroke="#8a8a8a" stroke-width="1.8"/>
<line x1="1973.2" y1="194.5" x2="1983.2" y2="194.5" stroke="#8a8a8a" stroke-width="1.8"/>
<line x1="1976.2" y1="152.6" x2="1983.2" y2="152.6" stroke="#8a8a8a" stroke-width="1.8"/>
<line x1="1973.2" y1="110.7" x2="1983.2" y2="110.7" stroke="#8a8a8a" stroke-width="1.8"/>
<line x1="1976.2" y1="68.8" x2="1983.2" y2="68.8" stroke="#8a8a8a" stroke-width="1.8"/>
<line x1="1973.2" y1="26.9" x2="1983.2" y2="26.9" stroke="#8a8a8a" stroke-width="1.8"/>
<line x1="1490.4" y1="446.0" x2="1490.4" y2="453.0" stroke="#333" stroke-width="2"/>
<line x1="1560.8" y1="446.0" x2="1560.8" y2="453.0" stroke="#333" stroke-width="2"/>
<line x1="1631.2" y1="446.0" x2="1631.2" y2="453.0" stroke="#333" stroke-width="2"/>
<line x1="1701.6" y1="446.0" x2="1701.6" y2="453.0" stroke="#333" stroke-width="2"/>
<line x1="1772.0" y1="446.0" x2="1772.0" y2="453.0" stroke="#333" stroke-width="2"/>
<line x1="1842.4" y1="446.0" x2="1842.4" y2="453.0" stroke="#333" stroke-width="2"/>
<line x1="1912.8" y1="446.0" x2="1912.8" y2="453.0" stroke="#333" stroke-width="2"/>
<text transform="translate(1420.0,489.5) scale(1,1.04)" font-size="34.8" text-anchor="middle" fill="#231f20" >0.0</text>
<text transform="translate(1560.8,489.5) scale(1,1.04)" font-size="34.8" text-anchor="middle" fill="#231f20" >0.4</text>
<text transform="translate(1701.6,489.5) scale(1,1.04)" font-size="34.8" text-anchor="middle" fill="#231f20" >0.8</text>
<text transform="translate(1842.4,489.5) scale(1,1.04)" font-size="34.8" text-anchor="middle" fill="#231f20" >1.2</text>
<text transform="translate(1983.2,489.5) scale(1,1.04)" font-size="34.8" text-anchor="middle" fill="#231f20" >1.6</text>
<text transform="translate(1403.0,458.5) scale(1,1.04)" font-size="34.8" text-anchor="end" fill="#231f20" >0</text>
<text transform="translate(1403.0,335.2) scale(1,1.04)" font-size="34.8" text-anchor="end" fill="#231f20" >5</text>
<text transform="translate(1403.0,211.9) scale(1,1.04)" font-size="34.8" text-anchor="end" fill="#231f20" >10</text>
<text transform="translate(1403.0,88.7) scale(1,1.04)" font-size="34.8" text-anchor="end" fill="#231f20" >15</text>
<text transform="translate(1995.0,457.5) scale(1,1.04)" font-size="34.8" text-anchor="start" fill="#2b58a8" >0</text>
<text transform="translate(1995.0,373.6) scale(1,1.04)" font-size="34.8" text-anchor="start" fill="#2b58a8" >20</text>
<text transform="translate(1995.0,289.8) scale(1,1.04)" font-size="34.8" text-anchor="start" fill="#2b58a8" >40</text>
<text transform="translate(1995.0,206.0) scale(1,1.04)" font-size="34.8" text-anchor="start" fill="#2b58a8" >60</text>
<text transform="translate(1995.0,122.2) scale(1,1.04)" font-size="34.8" text-anchor="start" fill="#2b58a8" >80</text>
<text transform="translate(1995.0,38.4) scale(1,1.04)" font-size="34.8" text-anchor="start" fill="#2b58a8" >100</text>
<text transform="translate(941.0,34.5) scale(1,1.05)" font-size="39.5" text-anchor="start" fill="#231f20" >(c)</text>
<text transform="translate(1351.0,241.2) rotate(-90) scale(1,1.05)" font-size="34.7" text-anchor="middle" fill="#231f20">Relative frequency/%</text>
<text transform="translate(2092.6,237.7) rotate(-90) scale(1,1.05)" font-size="34.7" text-anchor="middle" fill="#2b58a8">Cumulative frequency/%</text>
<text transform="translate(1575.0,98.0) scale(1,1.05)" font-size="34.8" text-anchor="start" fill="#231f20" >Porosity (0.045%)</text>
<text transform="translate(1549.5,528.5) scale(1,1.05)" font-size="35.3" text-anchor="start" fill="#231f20">Volume/(×10<tspan font-size="17.6" dy="-13.1" stroke="#231f20" stroke-width="0.45">5</tspan><tspan dy="13.1"> μm</tspan><tspan font-size="19.8" dy="-9.5" stroke="#231f20" stroke-width="0.45">3</tspan><tspan dy="9.5">)</tspan></text>
<path d="M1092.5,638 L1299.5,638.0 L1299.5,650.9 L1299.5,663.9 L1299.5,676.8 L1299.5,689.7 L1299.5,702.6 L1299.5,715.5 L1299.5,728.5 L1299.5,741.4 L1299.5,754.3 L1299.5,767.2 L1299.5,780.2 L1299.5,793.1 L1299.5,806.0 L1299.5,819.0 L1299.5,831.9 L1299.5,844.8 L1299.5,857.7 L1299.5,870.6 L1299.5,883.6 L1299.5,896.5 L1299.5,909.4 L1299.5,922.4 L1299.5,935.3 L1299.5,948.2 L1299.5,961.1 L1299.5,974.0 L1299.5,987.0 L1299.5,999.9 L1299.5,1012.8 L1299.5,1025.8 L1299.5,1038.7 L1299.5,1051.6 L1299.5,1064.5 L1299.5,1077.5 L1299.5,1090.4 L1299.5,1103.3 L1299.5,1116.2 L1299.5,1129.2 L1299.5,1142.1 L1299.5,1155.0 L1092.5,1155 Z" fill="#d8d8d8"/>
<polyline points="1135.0,650.0 1140.0,658.5 1144.6,667.0 1148.4,675.5 1151.2,684.0 1152.8,692.5 1152.9,701.0 1151.6,709.5 1149.0,718.0 1145.3,726.5 1140.8,735.0 1135.9,743.5 1130.9,752.0 1126.2,760.5 1122.2,769.0 1119.2,777.5 1117.4,786.0 1117.0,794.5 1118.1,803.0 1120.4,811.5 1123.9,820.0 1128.3,828.5 1133.2,837.0 1138.3,845.5 1143.0,854.0 1147.2,862.5 1150.4,871.0 1152.4,879.5 1153.0,888.0 1152.2,896.5 1150.1,905.0 1146.7,913.5 1142.5,922.0 1137.7,930.5 1132.6,939.0 1127.8,947.5 1123.5,956.0 1120.1,964.5 1117.9,973.0 1117.0,981.5 1117.6,990.0 1119.5,998.5 1122.6,1007.0 1126.7,1015.5 1131.5,1024.0 1136.5,1032.5 1141.4,1041.0 1145.8,1049.5 1149.4,1058.0 1151.8,1066.5 1152.9,1075.0 1152.6,1083.5 1151.0,1092.0 1148.0,1100.5 1144.1,1109.0 1139.4,1117.5 1134.4,1126.0 1129.4,1134.5 1124.9,1143.0" fill="none" stroke="#e6e6e6" stroke-width="3" opacity="0.7"/>
<polyline points="1250.0,650.0 1245.0,658.5 1240.4,667.0 1236.6,675.5 1233.8,684.0 1232.3,692.5 1232.1,701.0 1233.4,709.5 1236.0,718.0 1239.6,726.5 1244.1,735.0 1249.1,743.5 1254.1,752.0 1258.8,760.5 1262.8,769.0 1265.8,777.5 1267.6,786.0 1268.0,794.5 1266.9,803.0 1264.6,811.5 1261.1,820.0 1256.7,828.5 1251.8,837.0 1246.8,845.5 1242.0,854.0 1237.8,862.5 1234.6,871.0 1232.6,879.5 1232.0,888.0 1232.8,896.5 1234.9,905.0 1238.2,913.5 1242.5,922.0 1247.3,930.5 1252.3,939.0 1257.2,947.5 1261.5,956.0 1264.9,964.5 1267.1,973.0 1268.0,981.5 1267.5,990.0 1265.6,998.5 1262.4,1007.0 1258.3,1015.5 1253.6,1024.0 1248.5,1032.5 1243.6,1041.0 1239.2,1049.5 1235.6,1058.0 1233.2,1066.5 1232.1,1075.0 1232.3,1083.5 1234.0,1092.0 1236.9,1100.5 1240.9,1109.0 1245.6,1117.5 1250.6,1126.0 1255.5,1134.5 1260.1,1143.0" fill="none" stroke="#e6e6e6" stroke-width="3" opacity="0.7"/>
<path d="M1092.5,638 L1299.5,638.0 L1299.5,650.9 L1299.5,663.9 L1299.5,676.8 L1299.5,689.7 L1299.5,702.6 L1299.5,715.5 L1299.5,728.5 L1299.5,741.4 L1299.5,754.3 L1299.5,767.2 L1299.5,780.2 L1299.5,793.1 L1299.5,806.0 L1299.5,819.0 L1299.5,831.9 L1299.5,844.8 L1299.5,857.7 L1299.5,870.6 L1299.5,883.6 L1299.5,896.5 L1299.5,909.4 L1299.5,922.4 L1299.5,935.3 L1299.5,948.2 L1299.5,961.1 L1299.5,974.0 L1299.5,987.0 L1299.5,999.9 L1299.5,1012.8 L1299.5,1025.8 L1299.5,1038.7 L1299.5,1051.6 L1299.5,1064.5 L1299.5,1077.5 L1299.5,1090.4 L1299.5,1103.3 L1299.5,1116.2 L1299.5,1129.2 L1299.5,1142.1 L1299.5,1155.0 L1092.5,1155 Z" fill="#000" filter="url(#speck2)" opacity="0.3"/>
<text transform="translate(1101.0,677.5) scale(1,1.05)" font-size="34.5" text-anchor="start" fill="#231f20" >Septum</text>
<line x1="1018.8" y1="1147.5" x2="1018.8" y2="894.0" stroke="#111" stroke-width="4.2"/>
<polygon points="1018.8,876.0 1031.0,900.0 1018.8,895.0 1006.5,900.0" fill="#111"/>
<text transform="translate(1047.0,873.5) rotate(90) scale(1,1.05)" font-size="34.7" text-anchor="start" fill="#231f20">Building direction</text>
<polygon points="1307.5,866 1325,866 1325,855 1347.5,879 1325,902.5 1325,891 1307.5,891" fill="#9dd0dd"/>
<defs><linearGradient id="hd" gradientUnits="userSpaceOnUse" x1="1263.4" y1="1034.4" x2="1268.6" y2="1027.6"><stop offset="0" stop-color="#8a8a8a"/><stop offset="0.4" stop-color="#6a6a6a"/><stop offset="1" stop-color="#505050"/></linearGradient></defs>
<path d="M1263.4,1034.4 L1321.8,1080.7 A5.2,5.2 0 0 0 1328.2,1072.3 L1268.6,1027.6 Z" fill="url(#hd)"/>
<circle cx="1227.3" cy="1005.7" r="50.2" fill="#fff" stroke="#3a3a3a" stroke-width="2.2"/>
<path d="M1226.9,1000.5 C1226.7,1001.6 1226.5,1004.8 1225.7,1006.9 C1224.9,1008.9 1223.8,1011.3 1222.2,1012.6 C1220.5,1013.9 1217.9,1014.2 1215.7,1014.6 C1213.6,1014.9 1211.3,1015.1 1209.3,1014.7 C1207.2,1014.2 1204.9,1013.4 1203.3,1012.0 C1201.8,1010.6 1201.0,1008.4 1200.1,1006.5 C1199.2,1004.6 1198.1,1002.6 1198.0,1000.5 C1197.8,998.4 1198.3,996.1 1199.2,994.1 C1200.0,992.1 1201.3,989.8 1203.0,988.6 C1204.8,987.5 1207.4,987.6 1209.5,987.3 C1211.6,987.0 1213.7,986.4 1215.6,986.8 C1217.5,987.2 1219.2,988.7 1220.9,989.9 C1222.7,991.1 1225.2,992.1 1226.2,993.9 C1227.2,995.7 1226.8,999.4 1226.9,1000.5 Z" fill="url(#gG)"/>
<path d="M1208.5,967.5 C1208.4,967.8 1208.5,968.9 1208.1,969.5 C1207.8,970.1 1207.2,970.8 1206.6,971.2 C1205.9,971.5 1204.9,971.5 1204.1,971.5 C1203.3,971.5 1202.7,971.5 1201.9,971.4 C1201.2,971.3 1200.3,971.3 1199.7,970.9 C1199.1,970.6 1198.7,969.9 1198.3,969.3 C1197.9,968.8 1197.2,968.1 1197.1,967.5 C1197.0,966.9 1197.4,966.1 1197.8,965.5 C1198.2,964.9 1198.8,964.3 1199.5,963.9 C1200.1,963.5 1201.0,963.2 1201.8,963.1 C1202.6,962.9 1203.5,962.7 1204.3,962.9 C1205.0,963.1 1205.5,963.8 1206.1,964.3 C1206.7,964.7 1207.5,965.0 1207.9,965.6 C1208.3,966.1 1208.4,967.2 1208.5,967.5 Z" fill="url(#gD)"/>
<path d="M1235.7,972.0 C1235.7,972.2 1235.8,973.0 1235.7,973.4 C1235.6,973.8 1235.3,974.1 1235.0,974.4 C1234.8,974.8 1234.4,975.1 1234.1,975.2 C1233.8,975.2 1233.4,974.9 1233.1,974.7 C1232.8,974.5 1232.5,974.4 1232.3,974.2 C1232.1,973.9 1231.9,973.6 1231.8,973.2 C1231.7,972.8 1231.6,972.4 1231.5,972.0 C1231.5,971.6 1231.4,971.0 1231.5,970.6 C1231.6,970.3 1232.1,970.1 1232.4,969.9 C1232.6,969.6 1232.8,969.2 1233.1,969.1 C1233.4,969.0 1233.8,969.2 1234.1,969.3 C1234.4,969.4 1234.7,969.5 1234.9,969.8 C1235.2,970.0 1235.4,970.3 1235.5,970.7 C1235.7,971.1 1235.7,971.8 1235.7,972.0 Z" fill="url(#gB)"/>
<circle cx="1211.4" cy="1019" r="1.8" fill="#2a3a90"/>
<circle cx="1216" cy="1038.7" r="1.4" fill="#2a3a90"/>
<circle cx="1211.4" cy="1044.5" r="1.2" fill="#2a3a90"/>
<g>
<rect x="1440.97" y="830.79" width="8.87" height="242.01" fill="#f8d6bc" stroke="#5b4a42" stroke-width="1.6"/>
<rect x="1443.90" y="832.29" width="3.00" height="239.51" fill="#feeee4"/>
<rect x="1451.03" y="696.53" width="8.87" height="376.27" fill="#f8d6bc" stroke="#5b4a42" stroke-width="1.6"/>
<rect x="1453.97" y="698.03" width="3.00" height="373.77" fill="#feeee4"/>
<rect x="1461.10" y="770.89" width="8.87" height="301.91" fill="#f8d6bc" stroke="#5b4a42" stroke-width="1.6"/>
<rect x="1464.04" y="772.39" width="3.00" height="299.41" fill="#feeee4"/>
<rect x="1471.17" y="791.89" width="8.87" height="280.91" fill="#f8d6bc" stroke="#5b4a42" stroke-width="1.6"/>
<rect x="1474.10" y="793.39" width="3.00" height="278.41" fill="#feeee4"/>
<rect x="1481.24" y="739.57" width="8.87" height="333.23" fill="#f8d6bc" stroke="#5b4a42" stroke-width="1.6"/>
<rect x="1484.17" y="741.07" width="3.00" height="330.73" fill="#feeee4"/>
<rect x="1491.30" y="795.33" width="8.87" height="277.47" fill="#f8d6bc" stroke="#5b4a42" stroke-width="1.6"/>
<rect x="1494.24" y="796.83" width="3.00" height="274.97" fill="#feeee4"/>
<rect x="1501.37" y="855.23" width="8.87" height="217.57" fill="#f8d6bc" stroke="#5b4a42" stroke-width="1.6"/>
<rect x="1504.30" y="856.73" width="3.00" height="215.07" fill="#feeee4"/>
<rect x="1511.44" y="876.23" width="8.87" height="196.57" fill="#f8d6bc" stroke="#5b4a42" stroke-width="1.6"/>
<rect x="1514.37" y="877.73" width="3.00" height="194.07" fill="#feeee4"/>
<rect x="1521.51" y="900.67" width="8.87" height="172.12" fill="#f8d6bc" stroke="#5b4a42" stroke-width="1.6"/>
<rect x="1524.44" y="902.17" width="3.00" height="169.62" fill="#feeee4"/>
<rect x="1531.57" y="956.79" width="8.87" height="116.01" fill="#f8d6bc" stroke="#5b4a42" stroke-width="1.6"/>
<rect x="1534.51" y="958.29" width="3.00" height="113.51" fill="#feeee4"/>
<rect x="1541.64" y="943.02" width="8.87" height="129.78" fill="#f8d6bc" stroke="#5b4a42" stroke-width="1.6"/>
<rect x="1544.57" y="944.52" width="3.00" height="127.28" fill="#feeee4"/>
<rect x="1551.71" y="953.35" width="8.87" height="119.45" fill="#f8d6bc" stroke="#5b4a42" stroke-width="1.6"/>
<rect x="1554.64" y="954.85" width="3.00" height="116.95" fill="#feeee4"/>
<rect x="1561.77" y="981.23" width="8.87" height="91.57" fill="#f8d6bc" stroke="#5b4a42" stroke-width="1.6"/>
<rect x="1564.71" y="982.73" width="3.00" height="89.07" fill="#feeee4"/>
<rect x="1571.84" y="981.23" width="8.87" height="91.57" fill="#f8d6bc" stroke="#5b4a42" stroke-width="1.6"/>
<rect x="1574.78" y="982.73" width="3.00" height="89.07" fill="#feeee4"/>
<rect x="1581.91" y="1012.90" width="8.87" height="59.90" fill="#f8d6bc" stroke="#5b4a42" stroke-width="1.6"/>
<rect x="1584.84" y="1014.40" width="3.00" height="57.40" fill="#feeee4"/>
<rect x="1591.98" y="1024.26" width="8.87" height="48.54" fill="#f8d6bc" stroke="#5b4a42" stroke-width="1.6"/>
<rect x="1594.91" y="1025.76" width="3.00" height="46.04" fill="#feeee4"/>
<rect x="1602.04" y="1024.26" width="8.87" height="48.54" fill="#f8d6bc" stroke="#5b4a42" stroke-width="1.6"/>
<rect x="1604.98" y="1025.76" width="3.00" height="46.04" fill="#feeee4"/>
<rect x="1612.11" y="1034.59" width="8.87" height="38.21" fill="#f8d6bc" stroke="#5b4a42" stroke-width="1.6"/>
<rect x="1615.04" y="1036.09" width="3.00" height="35.71" fill="#feeee4"/>
<rect x="1622.18" y="1041.47" width="8.87" height="31.33" fill="#f8d6bc" stroke="#5b4a42" stroke-width="1.6"/>
<rect x="1625.11" y="1042.97" width="3.00" height="28.83" fill="#feeee4"/>
<rect x="1632.25" y="1056.62" width="8.87" height="16.18" fill="#f8d6bc" stroke="#5b4a42" stroke-width="1.6"/>
<rect x="1635.18" y="1058.12" width="3.00" height="13.68" fill="#feeee4"/>
<rect x="1642.31" y="1034.59" width="8.87" height="38.21" fill="#f8d6bc" stroke="#5b4a42" stroke-width="1.6"/>
<rect x="1645.25" y="1036.09" width="3.00" height="35.71" fill="#feeee4"/>
<rect x="1652.38" y="1041.47" width="8.87" height="31.33" fill="#f8d6bc" stroke="#5b4a42" stroke-width="1.6"/>
<rect x="1655.31" y="1042.97" width="3.00" height="28.83" fill="#feeee4"/>
<rect x="1662.45" y="1052.14" width="8.87" height="20.65" fill="#f8d6bc" stroke="#5b4a42" stroke-width="1.6"/>
<rect x="1665.38" y="1053.64" width="3.00" height="18.15" fill="#feeee4"/>
<rect x="1672.51" y="1041.47" width="8.87" height="31.33" fill="#f8d6bc" stroke="#5b4a42" stroke-width="1.6"/>
<rect x="1675.45" y="1042.97" width="3.00" height="28.83" fill="#feeee4"/>
<rect x="1682.58" y="1056.62" width="8.87" height="16.18" fill="#f8d6bc" stroke="#5b4a42" stroke-width="1.6"/>
<rect x="1685.52" y="1058.12" width="3.00" height="13.68" fill="#feeee4"/>
<rect x="1692.65" y="1055.59" width="8.87" height="17.21" fill="#f8d6bc" stroke="#5b4a42" stroke-width="1.6"/>
<rect x="1695.58" y="1057.09" width="3.00" height="14.71" fill="#feeee4"/>
<rect x="1702.72" y="1069.36" width="8.87" height="3.44" fill="#f8d6bc" stroke="#5b4a42" stroke-width="1.6"/>
<rect x="1705.65" y="1070.86" width="3.00" height="0.94" fill="#feeee4"/>
<rect x="1712.78" y="1057.65" width="8.87" height="15.15" fill="#f8d6bc" stroke="#5b4a42" stroke-width="1.6"/>
<rect x="1715.72" y="1059.15" width="3.00" height="12.65" fill="#feeee4"/>
<rect x="1722.85" y="1062.13" width="8.87" height="10.67" fill="#f8d6bc" stroke="#5b4a42" stroke-width="1.6"/>
<rect x="1725.78" y="1063.63" width="3.00" height="8.17" fill="#feeee4"/>
<rect x="1732.92" y="1054.90" width="8.87" height="17.90" fill="#f8d6bc" stroke="#5b4a42" stroke-width="1.6"/>
<rect x="1735.85" y="1056.40" width="3.00" height="15.40" fill="#feeee4"/>
<rect x="1742.99" y="1062.13" width="8.87" height="10.67" fill="#f8d6bc" stroke="#5b4a42" stroke-width="1.6"/>
<rect x="1745.92" y="1063.63" width="3.00" height="8.17" fill="#feeee4"/>
<rect x="1763.12" y="1065.57" width="8.87" height="7.23" fill="#f8d6bc" stroke="#5b4a42" stroke-width="1.6"/>
<rect x="1766.05" y="1067.07" width="3.00" height="4.73" fill="#feeee4"/>
<rect x="1773.19" y="1068.67" width="8.87" height="4.13" fill="#f8d6bc" stroke="#5b4a42" stroke-width="1.6"/>
<rect x="1776.12" y="1070.17" width="3.00" height="1.63" fill="#feeee4"/>
<rect x="1793.32" y="1065.57" width="8.87" height="7.23" fill="#f8d6bc" stroke="#5b4a42" stroke-width="1.6"/>
<rect x="1796.26" y="1067.07" width="3.00" height="4.73" fill="#feeee4"/>
<rect x="1823.52" y="1068.67" width="8.87" height="4.13" fill="#f8d6bc" stroke="#5b4a42" stroke-width="1.6"/>
<rect x="1826.46" y="1070.17" width="3.00" height="1.63" fill="#feeee4"/>
<rect x="1833.59" y="1068.67" width="8.87" height="4.13" fill="#f8d6bc" stroke="#5b4a42" stroke-width="1.6"/>
<rect x="1836.52" y="1070.17" width="3.00" height="1.63" fill="#feeee4"/>
<rect x="1863.79" y="1068.67" width="8.87" height="4.13" fill="#f8d6bc" stroke="#5b4a42" stroke-width="1.6"/>
<rect x="1866.73" y="1070.17" width="3.00" height="1.63" fill="#feeee4"/>
<rect x="1904.06" y="1068.67" width="8.87" height="4.13" fill="#f8d6bc" stroke="#5b4a42" stroke-width="1.6"/>
<rect x="1907.00" y="1070.17" width="3.00" height="1.63" fill="#feeee4"/>
<rect x="1924.20" y="1068.67" width="8.87" height="4.13" fill="#f8d6bc" stroke="#5b4a42" stroke-width="1.6"/>
<rect x="1927.13" y="1070.17" width="3.00" height="1.63" fill="#feeee4"/>
<rect x="1954.40" y="1068.67" width="8.87" height="4.13" fill="#f8d6bc" stroke="#5b4a42" stroke-width="1.6"/>
<rect x="1957.33" y="1070.17" width="3.00" height="1.63" fill="#feeee4"/>
</g>
<path d="M1443.4,1042.9 C1446.2,1032.1 1454.2,1001.4 1460.5,978.0 C1466.8,954.6 1474.8,923.9 1481.0,902.8 C1487.2,881.7 1492.3,867.5 1498.0,851.6 C1503.7,835.7 1508.9,819.7 1515.2,807.2 C1521.5,794.7 1529.5,786.1 1535.7,776.4 C1542.0,766.7 1545.9,758.2 1552.7,749.1 C1559.5,740.0 1568.2,729.4 1576.7,721.7 C1585.2,714.0 1594.9,708.4 1604.0,703.0 C1613.1,697.6 1621.6,693.3 1631.3,689.3 C1641.0,685.3 1651.2,682.4 1662.0,679.0 C1672.8,675.6 1684.8,671.2 1696.2,668.8 C1707.6,666.3 1719.0,665.4 1730.4,664.3 C1741.8,663.2 1750.4,662.5 1764.6,662.0 C1778.8,661.5 1795.9,661.3 1815.8,661.0 C1835.7,660.7 1856.0,660.4 1884.0,660.2 C1912.0,660.0 1967.3,660.0 1984.0,660.0" fill="none" stroke="#3f5eb0" stroke-width="2.2" stroke-linejoin="round"/>
<line x1="1430.3" y1="659.7" x2="1984.0" y2="659.7" stroke="#333" stroke-width="2.6"/>
<line x1="1430.3" y1="1072.8" x2="1984.0" y2="1072.8" stroke="#333" stroke-width="2.4"/>
<line x1="1430.3" y1="658.4" x2="1430.3" y2="1080.8" stroke="#555" stroke-width="3"/>
<line x1="1984.0" y1="658.4" x2="1984.0" y2="1080.8" stroke="#7d97cc" stroke-width="2"/>
<line x1="1430.3" y1="1072.8" x2="1440.3" y2="1072.8" stroke="#555" stroke-width="2"/>
<line x1="1430.3" y1="1021.2" x2="1440.3" y2="1021.2" stroke="#555" stroke-width="2"/>
<line x1="1430.3" y1="969.5" x2="1440.3" y2="969.5" stroke="#555" stroke-width="2"/>
<line x1="1430.3" y1="917.9" x2="1440.3" y2="917.9" stroke="#555" stroke-width="2"/>
<line x1="1430.3" y1="866.2" x2="1440.3" y2="866.2" stroke="#555" stroke-width="2"/>
<line x1="1430.3" y1="814.6" x2="1440.3" y2="814.6" stroke="#555" stroke-width="2"/>
<line x1="1430.3" y1="763.0" x2="1440.3" y2="763.0" stroke="#555" stroke-width="2"/>
<line x1="1430.3" y1="711.3" x2="1440.3" y2="711.3" stroke="#555" stroke-width="2"/>
<line x1="1430.3" y1="659.7" x2="1440.3" y2="659.7" stroke="#555" stroke-width="2"/>
<line x1="1974.0" y1="1072.8" x2="1984.0" y2="1072.8" stroke="#8a8a8a" stroke-width="1.8"/>
<line x1="1977.0" y1="1031.5" x2="1984.0" y2="1031.5" stroke="#8a8a8a" stroke-width="1.8"/>
<line x1="1974.0" y1="990.2" x2="1984.0" y2="990.2" stroke="#8a8a8a" stroke-width="1.8"/>
<line x1="1977.0" y1="948.9" x2="1984.0" y2="948.9" stroke="#8a8a8a" stroke-width="1.8"/>
<line x1="1974.0" y1="907.6" x2="1984.0" y2="907.6" stroke="#8a8a8a" stroke-width="1.8"/>
<line x1="1977.0" y1="866.2" x2="1984.0" y2="866.2" stroke="#8a8a8a" stroke-width="1.8"/>
<line x1="1974.0" y1="824.9" x2="1984.0" y2="824.9" stroke="#8a8a8a" stroke-width="1.8"/>
<line x1="1977.0" y1="783.6" x2="1984.0" y2="783.6" stroke="#8a8a8a" stroke-width="1.8"/>
<line x1="1974.0" y1="742.3" x2="1984.0" y2="742.3" stroke="#8a8a8a" stroke-width="1.8"/>
<line x1="1977.0" y1="701.0" x2="1984.0" y2="701.0" stroke="#8a8a8a" stroke-width="1.8"/>
<line x1="1974.0" y1="659.7" x2="1984.0" y2="659.7" stroke="#8a8a8a" stroke-width="1.8"/>
<text transform="translate(1430.3,1113.8) scale(1,1.04)" font-size="34.8" text-anchor="middle" fill="#231f20" >0.0</text>
<text transform="translate(1581.3,1113.8) scale(1,1.04)" font-size="34.8" text-anchor="middle" fill="#231f20" >0.3</text>
<text transform="translate(1732.3,1113.8) scale(1,1.04)" font-size="34.8" text-anchor="middle" fill="#231f20" >0.6</text>
<text transform="translate(1883.3,1113.8) scale(1,1.04)" font-size="34.8" text-anchor="middle" fill="#231f20" >0.9</text>
<text transform="translate(1414.0,1082.8) scale(1,1.04)" font-size="34.8" text-anchor="end" fill="#231f20" >0</text>
<text transform="translate(1414.0,979.5) scale(1,1.04)" font-size="34.8" text-anchor="end" fill="#231f20" >3</text>
<text transform="translate(1414.0,876.2) scale(1,1.04)" font-size="34.8" text-anchor="end" fill="#231f20" >6</text>
<text transform="translate(1414.0,772.9) scale(1,1.04)" font-size="34.8" text-anchor="end" fill="#231f20" >9</text>
<text transform="translate(1414.0,669.7) scale(1,1.04)" font-size="34.8" text-anchor="end" fill="#231f20" >12</text>
<text transform="translate(1995.0,1084.3) scale(1,1.04)" font-size="34.8" text-anchor="start" fill="#2b58a8" >0</text>
<text transform="translate(1995.0,1001.6) scale(1,1.04)" font-size="34.8" text-anchor="start" fill="#2b58a8" >20</text>
<text transform="translate(1995.0,919.0) scale(1,1.04)" font-size="34.8" text-anchor="start" fill="#2b58a8" >40</text>
<text transform="translate(1995.0,836.4) scale(1,1.04)" font-size="34.8" text-anchor="start" fill="#2b58a8" >60</text>
<text transform="translate(1995.0,753.8) scale(1,1.04)" font-size="34.8" text-anchor="start" fill="#2b58a8" >80</text>
<text transform="translate(1995.0,671.2) scale(1,1.04)" font-size="34.8" text-anchor="start" fill="#2b58a8" >100</text>
<text transform="translate(931.0,645.5) scale(1,1.05)" font-size="39.5" text-anchor="start" fill="#231f20" >(d)</text>
<text transform="translate(1370.8,862.3) rotate(-90) scale(1,1.05)" font-size="34.7" text-anchor="middle" fill="#231f20">Relative frequency/%</text>
<text transform="translate(2092.7,869.8) rotate(-90) scale(1,1.05)" font-size="34.7" text-anchor="middle" fill="#2b58a8">Cumulative frequency/%</text>
<text transform="translate(1616.0,746.0) scale(1,1.05)" font-size="34.8" text-anchor="start" fill="#231f20" >Porosity (0.033%)</text>
<text transform="translate(1549.9,1155.8) scale(1,1.05)" font-size="35.3" text-anchor="start" fill="#231f20">Volume/(×10<tspan font-size="17.6" dy="-13.1" stroke="#231f20" stroke-width="0.45">5</tspan><tspan dy="13.1"> μm</tspan><tspan font-size="19.8" dy="-9.5" stroke="#231f20" stroke-width="0.45">3</tspan><tspan dy="9.5">)</tspan></text>
</svg></body></html>
